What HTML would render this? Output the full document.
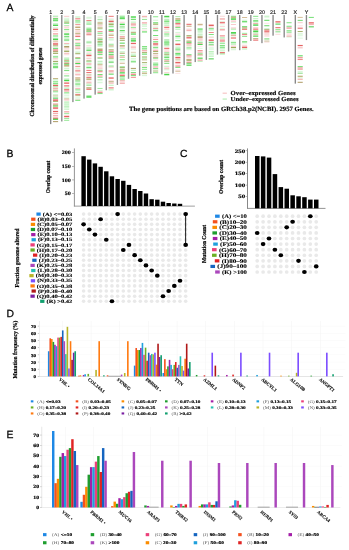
<!DOCTYPE html>
<html><head><meta charset="utf-8"><style>
html,body{margin:0;padding:0;background:#fff;overflow:hidden}
svg{display:block;will-change:transform} text{text-rendering:geometricPrecision}
</style></head><body>
<svg width="349" height="550" viewBox="0 0 349 550">
<rect width="349" height="550" fill="#fff"/>
<text x="6.60" y="10.70" font-family='"Liberation Sans", sans-serif' font-size="10.4" font-weight="normal" text-anchor="start" fill="#000"  stroke="#000" stroke-width="0.25" >A</text>
<text x="50.65" y="13.80" font-family='"Liberation Sans", sans-serif' font-size="5.3" font-weight="normal" text-anchor="middle" fill="#222"  stroke="#222" stroke-width="0.15" >1</text>
<rect x="50.00" y="15.0" width="1.35" height="109.12" fill="#888"/>
<rect x="53.00" y="15.80" width="5.1" height="0.7" fill="#6fd66f" fill-opacity="0.85"/>
<rect x="53.00" y="17.42" width="5.1" height="0.9" fill="#fadcdc" fill-opacity="0.85"/>
<rect x="53.00" y="18.26" width="5.1" height="1.2" fill="#2ecc2e" fill-opacity="0.85"/>
<rect x="53.00" y="19.76" width="5.1" height="1.5" fill="#5ad85a" fill-opacity="0.85"/>
<rect x="53.00" y="23.66" width="5.1" height="0.7" fill="#5ad85a" fill-opacity="0.85"/>
<rect x="53.00" y="24.76" width="5.1" height="1.2" fill="#2ecc2e" fill-opacity="0.85"/>
<rect x="53.00" y="27.16" width="5.1" height="1.2" fill="#d4f6d4" fill-opacity="0.85"/>
<rect x="53.00" y="28.76" width="5.1" height="1.2" fill="#e04848" fill-opacity="0.85"/>
<rect x="53.00" y="30.68" width="5.1" height="1.0" fill="#f7cccc" fill-opacity="0.85"/>
<rect x="53.00" y="33.48" width="5.1" height="0.9" fill="#e86060" fill-opacity="0.85"/>
<rect x="53.00" y="35.22" width="5.1" height="1.5" fill="#8ae48a" fill-opacity="0.85"/>
<rect x="53.00" y="37.32" width="5.1" height="1.0" fill="#d4f6d4" fill-opacity="0.85"/>
<rect x="53.00" y="38.52" width="5.1" height="1.5" fill="#2ecc2e" fill-opacity="0.85"/>
<rect x="53.00" y="40.62" width="5.1" height="1.0" fill="#c8a878" fill-opacity="0.85"/>
<rect x="53.00" y="42.22" width="5.1" height="0.7" fill="#f7cccc" fill-opacity="0.85"/>
<rect x="53.00" y="43.24" width="5.1" height="1.5" fill="#e04848" fill-opacity="0.85"/>
<rect x="53.00" y="45.34" width="5.1" height="1.0" fill="#8c9a40" fill-opacity="0.85"/>
<rect x="53.00" y="47.74" width="5.1" height="1.2" fill="#5ad85a" fill-opacity="0.85"/>
<rect x="53.00" y="49.26" width="5.1" height="1.5" fill="#ea7a7a" fill-opacity="0.85"/>
<rect x="53.00" y="50.96" width="5.1" height="0.9" fill="#a08848" fill-opacity="0.85"/>
<rect x="53.00" y="52.66" width="5.1" height="1.2" fill="#8c9a40" fill-opacity="0.85"/>
<rect x="53.00" y="55.86" width="5.1" height="0.9" fill="#6fd66f" fill-opacity="0.85"/>
<rect x="53.00" y="57.20" width="5.1" height="0.7" fill="#8ae48a" fill-opacity="0.85"/>
<rect x="53.00" y="58.42" width="5.1" height="0.9" fill="#f2a8a8" fill-opacity="0.85"/>
<rect x="53.00" y="60.82" width="5.1" height="1.2" fill="#98a050" fill-opacity="0.85"/>
<rect x="53.00" y="62.82" width="5.1" height="1.0" fill="#6fd66f" fill-opacity="0.85"/>
<rect x="53.00" y="63.82" width="5.1" height="0.7" fill="#5ad85a" fill-opacity="0.85"/>
<rect x="53.00" y="65.72" width="5.1" height="1.2" fill="#5ad85a" fill-opacity="0.85"/>
<rect x="53.00" y="67.04" width="5.1" height="1.2" fill="#5ad85a" fill-opacity="0.85"/>
<rect x="53.00" y="78.14" width="5.1" height="1.0" fill="#b0a060" fill-opacity="0.85"/>
<rect x="53.00" y="79.44" width="5.1" height="1.0" fill="#b8f0b8" fill-opacity="0.85"/>
<rect x="53.00" y="81.04" width="5.1" height="1.5" fill="#8ae48a" fill-opacity="0.85"/>
<rect x="53.00" y="83.34" width="5.1" height="0.9" fill="#2ecc2e" fill-opacity="0.85"/>
<rect x="53.00" y="84.84" width="5.1" height="1.2" fill="#e04848" fill-opacity="0.85"/>
<rect x="53.00" y="86.34" width="5.1" height="0.9" fill="#8ae48a" fill-opacity="0.85"/>
<rect x="53.00" y="87.64" width="5.1" height="1.5" fill="#f2a8a8" fill-opacity="0.85"/>
<rect x="53.00" y="89.74" width="5.1" height="0.9" fill="#b89a60" fill-opacity="0.85"/>
<rect x="53.00" y="91.04" width="5.1" height="0.7" fill="#6fd66f" fill-opacity="0.85"/>
<rect x="53.00" y="92.06" width="5.1" height="1.0" fill="#d4f6d4" fill-opacity="0.85"/>
<rect x="53.00" y="94.26" width="5.1" height="0.9" fill="#b8f0b8" fill-opacity="0.85"/>
<rect x="53.00" y="95.56" width="5.1" height="0.7" fill="#b0a060" fill-opacity="0.85"/>
<rect x="53.00" y="96.86" width="5.1" height="0.7" fill="#6fd66f" fill-opacity="0.85"/>
<rect x="53.00" y="97.96" width="5.1" height="1.0" fill="#6fd66f" fill-opacity="0.85"/>
<rect x="53.00" y="99.36" width="5.1" height="1.5" fill="#e04848" fill-opacity="0.85"/>
<rect x="53.00" y="100.96" width="5.1" height="0.9" fill="#98a050" fill-opacity="0.85"/>
<rect x="53.00" y="103.66" width="5.1" height="0.7" fill="#e04848" fill-opacity="0.85"/>
<rect x="53.00" y="104.66" width="5.1" height="0.9" fill="#8c9a40" fill-opacity="0.85"/>
<rect x="53.00" y="105.50" width="5.1" height="1.2" fill="#5ad85a" fill-opacity="0.85"/>
<rect x="53.00" y="107.30" width="5.1" height="1.5" fill="#e04848" fill-opacity="0.85"/>
<rect x="53.00" y="109.60" width="5.1" height="1.0" fill="#fadcdc" fill-opacity="0.85"/>
<rect x="53.00" y="111.00" width="5.1" height="1.0" fill="#e04848" fill-opacity="0.85"/>
<rect x="53.00" y="112.80" width="5.1" height="0.9" fill="#ea7a7a" fill-opacity="0.85"/>
<rect x="53.00" y="114.90" width="5.1" height="1.5" fill="#f2a8a8" fill-opacity="0.85"/>
<rect x="53.00" y="117.60" width="5.1" height="1.2" fill="#e04848" fill-opacity="0.85"/>
<rect x="53.00" y="118.72" width="5.1" height="1.2" fill="#2ecc2e" fill-opacity="0.85"/>
<rect x="53.00" y="121.12" width="5.1" height="1.0" fill="#a08848" fill-opacity="0.85"/>
<text x="61.77" y="13.80" font-family='"Liberation Sans", sans-serif' font-size="5.3" font-weight="normal" text-anchor="middle" fill="#222"  stroke="#222" stroke-width="0.15" >2</text>
<rect x="61.12" y="15.0" width="1.35" height="106.48" fill="#888"/>
<rect x="64.12" y="15.80" width="5.1" height="1.2" fill="#f7cccc" fill-opacity="0.85"/>
<rect x="64.12" y="17.80" width="5.1" height="1.0" fill="#d4f6d4" fill-opacity="0.85"/>
<rect x="64.12" y="19.60" width="5.1" height="0.7" fill="#8ae48a" fill-opacity="0.85"/>
<rect x="64.12" y="20.70" width="5.1" height="0.7" fill="#8ae48a" fill-opacity="0.85"/>
<rect x="64.12" y="21.72" width="5.1" height="0.9" fill="#8c9a40" fill-opacity="0.85"/>
<rect x="64.12" y="22.92" width="5.1" height="0.9" fill="#6fd66f" fill-opacity="0.85"/>
<rect x="64.12" y="25.06" width="5.1" height="0.7" fill="#8ae48a" fill-opacity="0.85"/>
<rect x="64.12" y="26.36" width="5.1" height="1.5" fill="#f7cccc" fill-opacity="0.85"/>
<rect x="64.12" y="28.06" width="5.1" height="0.7" fill="#fadcdc" fill-opacity="0.85"/>
<rect x="64.12" y="29.18" width="5.1" height="1.0" fill="#5ad85a" fill-opacity="0.85"/>
<rect x="64.12" y="31.18" width="5.1" height="1.2" fill="#fadcdc" fill-opacity="0.85"/>
<rect x="64.12" y="32.98" width="5.1" height="0.9" fill="#6fd66f" fill-opacity="0.85"/>
<rect x="64.12" y="34.18" width="5.1" height="1.0" fill="#2ecc2e" fill-opacity="0.85"/>
<rect x="64.12" y="36.28" width="5.1" height="1.0" fill="#2ecc2e" fill-opacity="0.85"/>
<rect x="64.12" y="38.68" width="5.1" height="0.9" fill="#6fd66f" fill-opacity="0.85"/>
<rect x="64.12" y="39.62" width="5.1" height="1.5" fill="#8ae48a" fill-opacity="0.85"/>
<rect x="64.12" y="42.92" width="5.1" height="1.0" fill="#f2a8a8" fill-opacity="0.85"/>
<rect x="64.12" y="44.12" width="5.1" height="1.2" fill="#d4f6d4" fill-opacity="0.85"/>
<rect x="64.12" y="46.04" width="5.1" height="1.5" fill="#a08848" fill-opacity="0.85"/>
<rect x="64.12" y="48.34" width="5.1" height="1.2" fill="#f7cccc" fill-opacity="0.85"/>
<rect x="64.12" y="50.54" width="5.1" height="1.5" fill="#98a050" fill-opacity="0.85"/>
<rect x="64.12" y="52.84" width="5.1" height="1.0" fill="#f2a8a8" fill-opacity="0.85"/>
<rect x="64.12" y="53.74" width="5.1" height="1.5" fill="#fadcdc" fill-opacity="0.85"/>
<rect x="64.12" y="57.44" width="5.1" height="0.9" fill="#b8f0b8" fill-opacity="0.85"/>
<rect x="64.12" y="58.58" width="5.1" height="1.2" fill="#8ae48a" fill-opacity="0.85"/>
<rect x="64.12" y="60.18" width="5.1" height="1.0" fill="#b89a60" fill-opacity="0.85"/>
<rect x="64.12" y="61.08" width="5.1" height="1.2" fill="#8ae48a" fill-opacity="0.85"/>
<rect x="64.12" y="62.68" width="5.1" height="1.0" fill="#e04848" fill-opacity="0.85"/>
<rect x="64.12" y="63.68" width="5.1" height="1.0" fill="#2ecc2e" fill-opacity="0.85"/>
<rect x="64.12" y="65.08" width="5.1" height="1.5" fill="#b89a60" fill-opacity="0.85"/>
<rect x="64.12" y="67.78" width="5.1" height="0.9" fill="#b8f0b8" fill-opacity="0.85"/>
<rect x="64.12" y="69.88" width="5.1" height="1.2" fill="#6fd66f" fill-opacity="0.85"/>
<rect x="64.12" y="73.08" width="5.1" height="1.2" fill="#fadcdc" fill-opacity="0.85"/>
<rect x="64.12" y="75.40" width="5.1" height="1.0" fill="#6fd66f" fill-opacity="0.85"/>
<rect x="64.12" y="78.00" width="5.1" height="1.5" fill="#d4f6d4" fill-opacity="0.85"/>
<rect x="64.12" y="79.70" width="5.1" height="1.5" fill="#2ecc2e" fill-opacity="0.85"/>
<rect x="64.12" y="82.40" width="5.1" height="1.5" fill="#e86060" fill-opacity="0.85"/>
<rect x="64.12" y="85.10" width="5.1" height="1.5" fill="#ea7a7a" fill-opacity="0.85"/>
<rect x="64.12" y="87.40" width="5.1" height="1.5" fill="#b8f0b8" fill-opacity="0.85"/>
<rect x="64.12" y="89.20" width="5.1" height="1.2" fill="#e04848" fill-opacity="0.85"/>
<rect x="64.12" y="90.52" width="5.1" height="1.2" fill="#f2a8a8" fill-opacity="0.85"/>
<rect x="64.12" y="92.12" width="5.1" height="1.5" fill="#8ae48a" fill-opacity="0.85"/>
<rect x="64.12" y="93.42" width="5.1" height="1.0" fill="#d4f6d4" fill-opacity="0.85"/>
<rect x="64.12" y="95.22" width="5.1" height="0.9" fill="#d4f6d4" fill-opacity="0.85"/>
<rect x="64.12" y="96.72" width="5.1" height="1.0" fill="#d4f6d4" fill-opacity="0.85"/>
<rect x="64.12" y="98.52" width="5.1" height="0.7" fill="#b89a60" fill-opacity="0.85"/>
<rect x="64.12" y="99.52" width="5.1" height="0.9" fill="#f2a8a8" fill-opacity="0.85"/>
<rect x="64.12" y="101.62" width="5.1" height="0.9" fill="#8ae48a" fill-opacity="0.85"/>
<rect x="64.12" y="103.32" width="5.1" height="1.5" fill="#b8f0b8" fill-opacity="0.85"/>
<rect x="64.12" y="105.62" width="5.1" height="1.0" fill="#8ae48a" fill-opacity="0.85"/>
<rect x="64.12" y="107.22" width="5.1" height="0.7" fill="#b8f0b8" fill-opacity="0.85"/>
<rect x="64.12" y="108.54" width="5.1" height="1.2" fill="#b8f0b8" fill-opacity="0.85"/>
<rect x="64.12" y="111.06" width="5.1" height="1.5" fill="#f2a8a8" fill-opacity="0.85"/>
<rect x="64.12" y="113.16" width="5.1" height="1.0" fill="#8ae48a" fill-opacity="0.85"/>
<rect x="64.12" y="115.76" width="5.1" height="1.5" fill="#e04848" fill-opacity="0.85"/>
<rect x="64.12" y="118.06" width="5.1" height="1.0" fill="#8ae48a" fill-opacity="0.85"/>
<rect x="64.12" y="119.86" width="5.1" height="1.0" fill="#8ae48a" fill-opacity="0.85"/>
<text x="72.89" y="13.80" font-family='"Liberation Sans", sans-serif' font-size="5.3" font-weight="normal" text-anchor="middle" fill="#222"  stroke="#222" stroke-width="0.15" >3</text>
<rect x="72.24" y="15.0" width="1.35" height="87.12" fill="#888"/>
<rect x="75.24" y="16.40" width="5.1" height="1.2" fill="#b8f0b8" fill-opacity="0.85"/>
<rect x="75.24" y="18.40" width="5.1" height="0.9" fill="#e04848" fill-opacity="0.85"/>
<rect x="75.24" y="20.10" width="5.1" height="1.0" fill="#8ae48a" fill-opacity="0.85"/>
<rect x="75.24" y="21.50" width="5.1" height="1.0" fill="#5ad85a" fill-opacity="0.85"/>
<rect x="75.24" y="22.80" width="5.1" height="0.9" fill="#d4f6d4" fill-opacity="0.85"/>
<rect x="75.24" y="24.14" width="5.1" height="1.0" fill="#ea7a7a" fill-opacity="0.85"/>
<rect x="75.24" y="26.54" width="5.1" height="1.5" fill="#b89a60" fill-opacity="0.85"/>
<rect x="75.24" y="29.24" width="5.1" height="0.7" fill="#b89a60" fill-opacity="0.85"/>
<rect x="75.24" y="30.34" width="5.1" height="1.0" fill="#f7cccc" fill-opacity="0.85"/>
<rect x="75.24" y="31.34" width="5.1" height="1.2" fill="#f7cccc" fill-opacity="0.85"/>
<rect x="75.24" y="32.84" width="5.1" height="1.0" fill="#b0a060" fill-opacity="0.85"/>
<rect x="75.24" y="34.64" width="5.1" height="0.7" fill="#e86060" fill-opacity="0.85"/>
<rect x="75.24" y="36.14" width="5.1" height="0.9" fill="#e04848" fill-opacity="0.85"/>
<rect x="75.24" y="39.08" width="5.1" height="0.7" fill="#2ecc2e" fill-opacity="0.85"/>
<rect x="75.24" y="40.10" width="5.1" height="1.0" fill="#f7cccc" fill-opacity="0.85"/>
<rect x="75.24" y="41.90" width="5.1" height="1.0" fill="#f7cccc" fill-opacity="0.85"/>
<rect x="75.24" y="43.30" width="5.1" height="0.7" fill="#5ad85a" fill-opacity="0.85"/>
<rect x="75.24" y="44.60" width="5.1" height="1.5" fill="#6fd66f" fill-opacity="0.85"/>
<rect x="75.24" y="46.40" width="5.1" height="0.9" fill="#f2a8a8" fill-opacity="0.85"/>
<rect x="75.24" y="47.60" width="5.1" height="1.5" fill="#f2a8a8" fill-opacity="0.85"/>
<rect x="75.24" y="49.50" width="5.1" height="0.7" fill="#d4f6d4" fill-opacity="0.85"/>
<rect x="75.24" y="51.72" width="5.1" height="0.7" fill="#8ae48a" fill-opacity="0.85"/>
<rect x="75.24" y="53.22" width="5.1" height="1.0" fill="#8c9a40" fill-opacity="0.85"/>
<rect x="75.24" y="57.22" width="5.1" height="1.0" fill="#b89a60" fill-opacity="0.85"/>
<rect x="75.24" y="58.12" width="5.1" height="1.0" fill="#6fd66f" fill-opacity="0.85"/>
<rect x="75.24" y="59.82" width="5.1" height="1.5" fill="#d4f6d4" fill-opacity="0.85"/>
<rect x="75.24" y="61.62" width="5.1" height="1.0" fill="#f2a8a8" fill-opacity="0.85"/>
<rect x="75.24" y="63.02" width="5.1" height="1.0" fill="#2ecc2e" fill-opacity="0.85"/>
<rect x="75.24" y="64.32" width="5.1" height="1.0" fill="#f7cccc" fill-opacity="0.85"/>
<rect x="75.24" y="66.12" width="5.1" height="1.0" fill="#ea7a7a" fill-opacity="0.85"/>
<rect x="75.24" y="67.92" width="5.1" height="0.7" fill="#b8f0b8" fill-opacity="0.85"/>
<rect x="75.24" y="69.42" width="5.1" height="0.7" fill="#f7cccc" fill-opacity="0.85"/>
<rect x="75.24" y="70.42" width="5.1" height="1.0" fill="#e04848" fill-opacity="0.85"/>
<rect x="75.24" y="71.92" width="5.1" height="0.7" fill="#d4f6d4" fill-opacity="0.85"/>
<rect x="75.24" y="73.82" width="5.1" height="0.7" fill="#e86060" fill-opacity="0.85"/>
<rect x="75.24" y="74.64" width="5.1" height="1.0" fill="#f7cccc" fill-opacity="0.85"/>
<rect x="75.24" y="77.24" width="5.1" height="1.5" fill="#c8a878" fill-opacity="0.85"/>
<rect x="75.24" y="79.34" width="5.1" height="1.0" fill="#8c9a40" fill-opacity="0.85"/>
<rect x="75.24" y="80.64" width="5.1" height="0.9" fill="#5ad85a" fill-opacity="0.85"/>
<rect x="75.24" y="81.84" width="5.1" height="1.0" fill="#d4f6d4" fill-opacity="0.85"/>
<rect x="75.24" y="83.54" width="5.1" height="1.0" fill="#2ecc2e" fill-opacity="0.85"/>
<rect x="75.24" y="85.34" width="5.1" height="1.2" fill="#b8f0b8" fill-opacity="0.85"/>
<rect x="75.24" y="87.84" width="5.1" height="1.0" fill="#f2a8a8" fill-opacity="0.85"/>
<rect x="75.24" y="89.44" width="5.1" height="0.9" fill="#5ad85a" fill-opacity="0.85"/>
<rect x="75.24" y="91.78" width="5.1" height="0.9" fill="#8ae48a" fill-opacity="0.85"/>
<rect x="75.24" y="93.88" width="5.1" height="1.0" fill="#e86060" fill-opacity="0.85"/>
<rect x="75.24" y="94.78" width="5.1" height="1.0" fill="#b89a60" fill-opacity="0.85"/>
<rect x="75.24" y="96.48" width="5.1" height="0.9" fill="#d4f6d4" fill-opacity="0.85"/>
<rect x="75.24" y="97.62" width="5.1" height="1.0" fill="#d4f6d4" fill-opacity="0.85"/>
<rect x="75.24" y="98.92" width="5.1" height="1.0" fill="#fadcdc" fill-opacity="0.85"/>
<rect x="75.24" y="99.82" width="5.1" height="1.0" fill="#5ad85a" fill-opacity="0.85"/>
<text x="84.01" y="13.80" font-family='"Liberation Sans", sans-serif' font-size="5.3" font-weight="normal" text-anchor="middle" fill="#222"  stroke="#222" stroke-width="0.15" >4</text>
<rect x="83.36" y="15.0" width="1.35" height="83.60" fill="#888"/>
<rect x="86.36" y="16.80" width="5.1" height="1.0" fill="#d4f6d4" fill-opacity="0.85"/>
<rect x="86.36" y="17.80" width="5.1" height="0.7" fill="#b8f0b8" fill-opacity="0.85"/>
<rect x="86.36" y="20.00" width="5.1" height="0.9" fill="#e86060" fill-opacity="0.85"/>
<rect x="86.36" y="21.50" width="5.1" height="1.0" fill="#8ae48a" fill-opacity="0.85"/>
<rect x="86.36" y="23.30" width="5.1" height="1.5" fill="#8ae48a" fill-opacity="0.85"/>
<rect x="86.36" y="27.00" width="5.1" height="1.0" fill="#d4f6d4" fill-opacity="0.85"/>
<rect x="86.36" y="28.40" width="5.1" height="1.5" fill="#5ad85a" fill-opacity="0.85"/>
<rect x="86.36" y="30.20" width="5.1" height="1.2" fill="#98a050" fill-opacity="0.85"/>
<rect x="86.36" y="31.32" width="5.1" height="0.7" fill="#5ad85a" fill-opacity="0.85"/>
<rect x="86.36" y="32.54" width="5.1" height="1.0" fill="#ea7a7a" fill-opacity="0.85"/>
<rect x="86.36" y="34.24" width="5.1" height="1.0" fill="#e86060" fill-opacity="0.85"/>
<rect x="86.36" y="40.84" width="5.1" height="1.2" fill="#b8f0b8" fill-opacity="0.85"/>
<rect x="86.36" y="42.36" width="5.1" height="0.9" fill="#6fd66f" fill-opacity="0.85"/>
<rect x="86.36" y="45.00" width="5.1" height="1.5" fill="#fadcdc" fill-opacity="0.85"/>
<rect x="86.36" y="47.30" width="5.1" height="1.5" fill="#b8f0b8" fill-opacity="0.85"/>
<rect x="86.36" y="49.60" width="5.1" height="1.2" fill="#2ecc2e" fill-opacity="0.85"/>
<rect x="86.36" y="51.60" width="5.1" height="0.9" fill="#f7cccc" fill-opacity="0.85"/>
<rect x="86.36" y="53.30" width="5.1" height="1.0" fill="#b8f0b8" fill-opacity="0.85"/>
<rect x="86.36" y="54.70" width="5.1" height="1.5" fill="#e04848" fill-opacity="0.85"/>
<rect x="86.36" y="57.70" width="5.1" height="1.5" fill="#f7cccc" fill-opacity="0.85"/>
<rect x="86.36" y="60.40" width="5.1" height="1.0" fill="#8c9a40" fill-opacity="0.85"/>
<rect x="86.36" y="61.40" width="5.1" height="0.9" fill="#8ae48a" fill-opacity="0.85"/>
<rect x="86.36" y="63.50" width="5.1" height="1.0" fill="#ea7a7a" fill-opacity="0.85"/>
<rect x="86.36" y="65.30" width="5.1" height="0.9" fill="#d4f6d4" fill-opacity="0.85"/>
<rect x="86.36" y="66.80" width="5.1" height="1.5" fill="#5ad85a" fill-opacity="0.85"/>
<rect x="86.36" y="69.90" width="5.1" height="1.0" fill="#e86060" fill-opacity="0.85"/>
<rect x="86.36" y="72.10" width="5.1" height="1.0" fill="#e04848" fill-opacity="0.85"/>
<rect x="86.36" y="74.50" width="5.1" height="0.9" fill="#b0a060" fill-opacity="0.85"/>
<rect x="86.36" y="76.80" width="5.1" height="1.0" fill="#e04848" fill-opacity="0.85"/>
<rect x="86.36" y="78.40" width="5.1" height="1.5" fill="#b0a060" fill-opacity="0.85"/>
<rect x="86.36" y="80.60" width="5.1" height="1.0" fill="#f7cccc" fill-opacity="0.85"/>
<rect x="86.36" y="82.60" width="5.1" height="0.7" fill="#e04848" fill-opacity="0.85"/>
<rect x="86.36" y="83.32" width="5.1" height="1.0" fill="#d4f6d4" fill-opacity="0.85"/>
<rect x="86.36" y="84.72" width="5.1" height="0.9" fill="#5ad85a" fill-opacity="0.85"/>
<rect x="86.36" y="87.22" width="5.1" height="1.5" fill="#b89a60" fill-opacity="0.85"/>
<rect x="86.36" y="88.92" width="5.1" height="1.0" fill="#e86060" fill-opacity="0.85"/>
<rect x="86.36" y="95.62" width="5.1" height="1.2" fill="#2ecc2e" fill-opacity="0.85"/>
<rect x="86.36" y="97.14" width="5.1" height="0.7" fill="#2ecc2e" fill-opacity="0.85"/>
<text x="95.13" y="13.80" font-family='"Liberation Sans", sans-serif' font-size="5.3" font-weight="normal" text-anchor="middle" fill="#222"  stroke="#222" stroke-width="0.15" >5</text>
<rect x="94.48" y="15.0" width="1.35" height="79.64" fill="#888"/>
<rect x="97.48" y="16.20" width="5.1" height="1.5" fill="#d4f6d4" fill-opacity="0.85"/>
<rect x="97.48" y="18.90" width="5.1" height="0.7" fill="#6fd66f" fill-opacity="0.85"/>
<rect x="97.48" y="20.70" width="5.1" height="0.7" fill="#b8f0b8" fill-opacity="0.85"/>
<rect x="97.48" y="22.20" width="5.1" height="0.9" fill="#c8a878" fill-opacity="0.85"/>
<rect x="97.48" y="23.40" width="5.1" height="1.0" fill="#98a050" fill-opacity="0.85"/>
<rect x="97.48" y="24.70" width="5.1" height="1.5" fill="#f7cccc" fill-opacity="0.85"/>
<rect x="97.48" y="26.80" width="5.1" height="0.7" fill="#b89a60" fill-opacity="0.85"/>
<rect x="97.48" y="27.80" width="5.1" height="0.9" fill="#98a050" fill-opacity="0.85"/>
<rect x="97.48" y="28.94" width="5.1" height="0.9" fill="#d4f6d4" fill-opacity="0.85"/>
<rect x="97.48" y="31.04" width="5.1" height="0.7" fill="#e86060" fill-opacity="0.85"/>
<rect x="97.48" y="32.66" width="5.1" height="1.0" fill="#5ad85a" fill-opacity="0.85"/>
<rect x="97.48" y="34.86" width="5.1" height="0.7" fill="#b89a60" fill-opacity="0.85"/>
<rect x="97.48" y="37.58" width="5.1" height="0.9" fill="#c8a878" fill-opacity="0.85"/>
<rect x="97.48" y="38.78" width="5.1" height="1.5" fill="#6fd66f" fill-opacity="0.85"/>
<rect x="97.48" y="40.88" width="5.1" height="1.5" fill="#b0a060" fill-opacity="0.85"/>
<rect x="97.48" y="42.58" width="5.1" height="0.7" fill="#2ecc2e" fill-opacity="0.85"/>
<rect x="97.48" y="43.90" width="5.1" height="0.9" fill="#6fd66f" fill-opacity="0.85"/>
<rect x="97.48" y="45.40" width="5.1" height="1.0" fill="#8ae48a" fill-opacity="0.85"/>
<rect x="97.48" y="48.50" width="5.1" height="1.5" fill="#b0a060" fill-opacity="0.85"/>
<rect x="97.48" y="50.20" width="5.1" height="1.0" fill="#e04848" fill-opacity="0.85"/>
<rect x="97.48" y="51.50" width="5.1" height="1.2" fill="#2ecc2e" fill-opacity="0.85"/>
<rect x="97.48" y="53.10" width="5.1" height="0.7" fill="#f2a8a8" fill-opacity="0.85"/>
<rect x="97.48" y="54.12" width="5.1" height="1.0" fill="#5ad85a" fill-opacity="0.85"/>
<rect x="97.48" y="56.92" width="5.1" height="0.9" fill="#c8a878" fill-opacity="0.85"/>
<rect x="97.48" y="58.22" width="5.1" height="0.7" fill="#6fd66f" fill-opacity="0.85"/>
<rect x="97.48" y="60.72" width="5.1" height="1.5" fill="#b8f0b8" fill-opacity="0.85"/>
<rect x="97.48" y="62.72" width="5.1" height="1.2" fill="#b8f0b8" fill-opacity="0.85"/>
<rect x="97.48" y="64.32" width="5.1" height="1.0" fill="#b89a60" fill-opacity="0.85"/>
<rect x="97.48" y="66.12" width="5.1" height="1.5" fill="#fadcdc" fill-opacity="0.85"/>
<rect x="97.48" y="67.62" width="5.1" height="1.5" fill="#f7cccc" fill-opacity="0.85"/>
<rect x="97.48" y="69.72" width="5.1" height="1.2" fill="#8ae48a" fill-opacity="0.85"/>
<rect x="97.48" y="70.84" width="5.1" height="0.9" fill="#e86060" fill-opacity="0.85"/>
<rect x="97.48" y="72.14" width="5.1" height="0.9" fill="#fadcdc" fill-opacity="0.85"/>
<rect x="97.48" y="74.04" width="5.1" height="1.0" fill="#5ad85a" fill-opacity="0.85"/>
<rect x="97.48" y="75.54" width="5.1" height="1.0" fill="#ea7a7a" fill-opacity="0.85"/>
<rect x="97.48" y="77.14" width="5.1" height="0.7" fill="#6fd66f" fill-opacity="0.85"/>
<rect x="97.48" y="79.04" width="5.1" height="1.5" fill="#b8f0b8" fill-opacity="0.85"/>
<rect x="97.48" y="81.74" width="5.1" height="1.5" fill="#d4f6d4" fill-opacity="0.85"/>
<rect x="97.48" y="87.94" width="5.1" height="1.0" fill="#8ae48a" fill-opacity="0.85"/>
<rect x="97.48" y="90.04" width="5.1" height="0.7" fill="#b8f0b8" fill-opacity="0.85"/>
<rect x="97.48" y="91.54" width="5.1" height="1.5" fill="#ea7a7a" fill-opacity="0.85"/>
<rect x="97.48" y="93.34" width="5.1" height="0.7" fill="#2ecc2e" fill-opacity="0.85"/>
<text x="106.25" y="13.80" font-family='"Liberation Sans", sans-serif' font-size="5.3" font-weight="normal" text-anchor="middle" fill="#222"  stroke="#222" stroke-width="0.15" >6</text>
<rect x="105.60" y="15.0" width="1.35" height="75.24" fill="#888"/>
<rect x="108.60" y="15.80" width="5.1" height="1.2" fill="#ea7a7a" fill-opacity="0.85"/>
<rect x="108.60" y="18.10" width="5.1" height="0.7" fill="#fadcdc" fill-opacity="0.85"/>
<rect x="108.60" y="19.40" width="5.1" height="0.9" fill="#b8f0b8" fill-opacity="0.85"/>
<rect x="108.60" y="20.70" width="5.1" height="1.5" fill="#e04848" fill-opacity="0.85"/>
<rect x="108.60" y="22.80" width="5.1" height="1.0" fill="#b8f0b8" fill-opacity="0.85"/>
<rect x="108.60" y="23.70" width="5.1" height="1.5" fill="#98a050" fill-opacity="0.85"/>
<rect x="108.60" y="25.80" width="5.1" height="1.5" fill="#8ae48a" fill-opacity="0.85"/>
<rect x="108.60" y="29.30" width="5.1" height="1.5" fill="#2ecc2e" fill-opacity="0.85"/>
<rect x="108.60" y="31.00" width="5.1" height="1.0" fill="#ea7a7a" fill-opacity="0.85"/>
<rect x="108.60" y="32.80" width="5.1" height="1.5" fill="#d4f6d4" fill-opacity="0.85"/>
<rect x="108.60" y="34.50" width="5.1" height="1.5" fill="#c8a878" fill-opacity="0.85"/>
<rect x="108.60" y="37.00" width="5.1" height="1.0" fill="#f2a8a8" fill-opacity="0.85"/>
<rect x="108.60" y="38.20" width="5.1" height="1.5" fill="#d4f6d4" fill-opacity="0.85"/>
<rect x="108.60" y="39.70" width="5.1" height="0.7" fill="#b8f0b8" fill-opacity="0.85"/>
<rect x="108.60" y="43.22" width="5.1" height="0.7" fill="#d4f6d4" fill-opacity="0.85"/>
<rect x="108.60" y="44.22" width="5.1" height="1.0" fill="#8ae48a" fill-opacity="0.85"/>
<rect x="108.60" y="45.52" width="5.1" height="1.0" fill="#b89a60" fill-opacity="0.85"/>
<rect x="108.60" y="46.92" width="5.1" height="0.9" fill="#d4f6d4" fill-opacity="0.85"/>
<rect x="108.60" y="49.32" width="5.1" height="1.0" fill="#98a050" fill-opacity="0.85"/>
<rect x="108.60" y="50.72" width="5.1" height="1.0" fill="#e86060" fill-opacity="0.85"/>
<rect x="108.60" y="52.02" width="5.1" height="0.9" fill="#5ad85a" fill-opacity="0.85"/>
<rect x="108.60" y="53.72" width="5.1" height="1.5" fill="#5ad85a" fill-opacity="0.85"/>
<rect x="108.60" y="55.62" width="5.1" height="0.7" fill="#e86060" fill-opacity="0.85"/>
<rect x="108.60" y="56.64" width="5.1" height="1.0" fill="#e86060" fill-opacity="0.85"/>
<rect x="108.60" y="58.24" width="5.1" height="0.7" fill="#98a050" fill-opacity="0.85"/>
<rect x="108.60" y="59.26" width="5.1" height="0.7" fill="#d4f6d4" fill-opacity="0.85"/>
<rect x="108.60" y="60.86" width="5.1" height="0.7" fill="#5ad85a" fill-opacity="0.85"/>
<rect x="108.60" y="62.08" width="5.1" height="1.0" fill="#6fd66f" fill-opacity="0.85"/>
<rect x="108.60" y="65.48" width="5.1" height="1.2" fill="#8ae48a" fill-opacity="0.85"/>
<rect x="108.60" y="66.80" width="5.1" height="1.0" fill="#f7cccc" fill-opacity="0.85"/>
<rect x="108.60" y="70.40" width="5.1" height="1.2" fill="#ea7a7a" fill-opacity="0.85"/>
<rect x="108.60" y="72.20" width="5.1" height="1.2" fill="#f7cccc" fill-opacity="0.85"/>
<rect x="108.60" y="73.70" width="5.1" height="0.9" fill="#2ecc2e" fill-opacity="0.85"/>
<rect x="108.60" y="77.30" width="5.1" height="1.5" fill="#e86060" fill-opacity="0.85"/>
<rect x="108.60" y="80.30" width="5.1" height="1.5" fill="#f7cccc" fill-opacity="0.85"/>
<rect x="108.60" y="81.50" width="5.1" height="0.7" fill="#8c9a40" fill-opacity="0.85"/>
<rect x="108.60" y="82.50" width="5.1" height="1.2" fill="#f2a8a8" fill-opacity="0.85"/>
<rect x="108.60" y="84.70" width="5.1" height="1.2" fill="#b8f0b8" fill-opacity="0.85"/>
<rect x="108.60" y="87.40" width="5.1" height="1.0" fill="#e04848" fill-opacity="0.85"/>
<rect x="108.60" y="89.20" width="5.1" height="1.2" fill="#b8f0b8" fill-opacity="0.85"/>
<text x="117.37" y="13.80" font-family='"Liberation Sans", sans-serif' font-size="5.3" font-weight="normal" text-anchor="middle" fill="#222"  stroke="#222" stroke-width="0.15" >7</text>
<rect x="116.72" y="15.0" width="1.35" height="69.96" fill="#888"/>
<rect x="119.72" y="15.80" width="5.1" height="0.7" fill="#2ecc2e" fill-opacity="0.85"/>
<rect x="119.72" y="17.30" width="5.1" height="1.0" fill="#2ecc2e" fill-opacity="0.85"/>
<rect x="119.72" y="18.20" width="5.1" height="0.9" fill="#2ecc2e" fill-opacity="0.85"/>
<rect x="119.72" y="19.14" width="5.1" height="0.9" fill="#d4f6d4" fill-opacity="0.85"/>
<rect x="119.72" y="21.74" width="5.1" height="1.0" fill="#f7cccc" fill-opacity="0.85"/>
<rect x="119.72" y="23.64" width="5.1" height="1.5" fill="#2ecc2e" fill-opacity="0.85"/>
<rect x="119.72" y="26.34" width="5.1" height="1.2" fill="#6fd66f" fill-opacity="0.85"/>
<rect x="119.72" y="27.86" width="5.1" height="1.5" fill="#d4f6d4" fill-opacity="0.85"/>
<rect x="119.72" y="30.16" width="5.1" height="1.0" fill="#2ecc2e" fill-opacity="0.85"/>
<rect x="119.72" y="31.56" width="5.1" height="1.0" fill="#b8f0b8" fill-opacity="0.85"/>
<rect x="119.72" y="33.76" width="5.1" height="1.5" fill="#d4f6d4" fill-opacity="0.85"/>
<rect x="119.72" y="36.46" width="5.1" height="0.9" fill="#e04848" fill-opacity="0.85"/>
<rect x="119.72" y="37.96" width="5.1" height="1.0" fill="#b89a60" fill-opacity="0.85"/>
<rect x="119.72" y="39.76" width="5.1" height="1.0" fill="#8c9a40" fill-opacity="0.85"/>
<rect x="119.72" y="42.56" width="5.1" height="1.2" fill="#5ad85a" fill-opacity="0.85"/>
<rect x="119.72" y="45.08" width="5.1" height="1.5" fill="#b0a060" fill-opacity="0.85"/>
<rect x="119.72" y="47.18" width="5.1" height="1.0" fill="#f7cccc" fill-opacity="0.85"/>
<rect x="119.72" y="48.18" width="5.1" height="1.0" fill="#b8f0b8" fill-opacity="0.85"/>
<rect x="119.72" y="51.58" width="5.1" height="0.7" fill="#8ae48a" fill-opacity="0.85"/>
<rect x="119.72" y="52.80" width="5.1" height="1.0" fill="#b0a060" fill-opacity="0.85"/>
<rect x="119.72" y="55.00" width="5.1" height="0.7" fill="#5ad85a" fill-opacity="0.85"/>
<rect x="119.72" y="56.02" width="5.1" height="1.2" fill="#f7cccc" fill-opacity="0.85"/>
<rect x="119.72" y="57.14" width="5.1" height="0.7" fill="#c8a878" fill-opacity="0.85"/>
<rect x="119.72" y="59.04" width="5.1" height="1.2" fill="#8ae48a" fill-opacity="0.85"/>
<rect x="119.72" y="60.54" width="5.1" height="1.0" fill="#d4f6d4" fill-opacity="0.85"/>
<rect x="119.72" y="62.74" width="5.1" height="1.0" fill="#c8a878" fill-opacity="0.85"/>
<rect x="119.72" y="66.54" width="5.1" height="0.7" fill="#2ecc2e" fill-opacity="0.85"/>
<rect x="119.72" y="67.26" width="5.1" height="1.0" fill="#8c9a40" fill-opacity="0.85"/>
<rect x="119.72" y="69.06" width="5.1" height="0.7" fill="#98a050" fill-opacity="0.85"/>
<rect x="119.72" y="70.36" width="5.1" height="1.2" fill="#e86060" fill-opacity="0.85"/>
<rect x="119.72" y="71.96" width="5.1" height="1.5" fill="#5ad85a" fill-opacity="0.85"/>
<rect x="119.72" y="73.26" width="5.1" height="0.7" fill="#8ae48a" fill-opacity="0.85"/>
<rect x="119.72" y="74.56" width="5.1" height="1.5" fill="#e86060" fill-opacity="0.85"/>
<rect x="119.72" y="76.36" width="5.1" height="0.9" fill="#2ecc2e" fill-opacity="0.85"/>
<rect x="119.72" y="77.86" width="5.1" height="0.7" fill="#6fd66f" fill-opacity="0.85"/>
<rect x="119.72" y="79.16" width="5.1" height="1.0" fill="#8ae48a" fill-opacity="0.85"/>
<rect x="119.72" y="80.56" width="5.1" height="0.7" fill="#e86060" fill-opacity="0.85"/>
<rect x="119.72" y="82.46" width="5.1" height="1.5" fill="#f2a8a8" fill-opacity="0.85"/>
<text x="128.49" y="13.80" font-family='"Liberation Sans", sans-serif' font-size="5.3" font-weight="normal" text-anchor="middle" fill="#222"  stroke="#222" stroke-width="0.15" >8</text>
<rect x="127.84" y="15.0" width="1.35" height="63.80" fill="#888"/>
<rect x="130.84" y="16.10" width="5.1" height="1.0" fill="#5ad85a" fill-opacity="0.85"/>
<rect x="130.84" y="17.30" width="5.1" height="0.9" fill="#2ecc2e" fill-opacity="0.85"/>
<rect x="130.84" y="19.00" width="5.1" height="1.0" fill="#5ad85a" fill-opacity="0.85"/>
<rect x="130.84" y="20.80" width="5.1" height="1.0" fill="#d4f6d4" fill-opacity="0.85"/>
<rect x="130.84" y="22.20" width="5.1" height="1.0" fill="#b8f0b8" fill-opacity="0.85"/>
<rect x="130.84" y="23.50" width="5.1" height="1.2" fill="#ea7a7a" fill-opacity="0.85"/>
<rect x="130.84" y="25.30" width="5.1" height="1.0" fill="#f2a8a8" fill-opacity="0.85"/>
<rect x="130.84" y="27.00" width="5.1" height="0.7" fill="#5ad85a" fill-opacity="0.85"/>
<rect x="130.84" y="28.30" width="5.1" height="1.2" fill="#f7cccc" fill-opacity="0.85"/>
<rect x="130.84" y="30.70" width="5.1" height="1.0" fill="#d4f6d4" fill-opacity="0.85"/>
<rect x="130.84" y="31.90" width="5.1" height="1.0" fill="#b89a60" fill-opacity="0.85"/>
<rect x="130.84" y="33.30" width="5.1" height="1.5" fill="#5ad85a" fill-opacity="0.85"/>
<rect x="130.84" y="36.10" width="5.1" height="1.5" fill="#fadcdc" fill-opacity="0.85"/>
<rect x="130.84" y="38.20" width="5.1" height="1.5" fill="#6fd66f" fill-opacity="0.85"/>
<rect x="130.84" y="40.10" width="5.1" height="1.5" fill="#2ecc2e" fill-opacity="0.85"/>
<rect x="130.84" y="42.80" width="5.1" height="1.2" fill="#e04848" fill-opacity="0.85"/>
<rect x="130.84" y="44.60" width="5.1" height="0.7" fill="#f7cccc" fill-opacity="0.85"/>
<rect x="130.84" y="46.62" width="5.1" height="0.9" fill="#ea7a7a" fill-opacity="0.85"/>
<rect x="130.84" y="48.12" width="5.1" height="1.2" fill="#fadcdc" fill-opacity="0.85"/>
<rect x="130.84" y="49.44" width="5.1" height="0.7" fill="#d4f6d4" fill-opacity="0.85"/>
<rect x="130.84" y="51.86" width="5.1" height="0.7" fill="#c8a878" fill-opacity="0.85"/>
<rect x="130.84" y="53.36" width="5.1" height="0.9" fill="#d4f6d4" fill-opacity="0.85"/>
<rect x="130.84" y="54.70" width="5.1" height="1.0" fill="#8ae48a" fill-opacity="0.85"/>
<rect x="130.84" y="56.00" width="5.1" height="0.9" fill="#98a050" fill-opacity="0.85"/>
<rect x="130.84" y="58.40" width="5.1" height="0.7" fill="#b8f0b8" fill-opacity="0.85"/>
<rect x="130.84" y="59.70" width="5.1" height="1.2" fill="#d4f6d4" fill-opacity="0.85"/>
<rect x="130.84" y="61.20" width="5.1" height="1.2" fill="#5ad85a" fill-opacity="0.85"/>
<rect x="130.84" y="67.90" width="5.1" height="1.0" fill="#a08848" fill-opacity="0.85"/>
<rect x="130.84" y="69.70" width="5.1" height="1.2" fill="#b8f0b8" fill-opacity="0.85"/>
<rect x="130.84" y="72.00" width="5.1" height="1.0" fill="#6fd66f" fill-opacity="0.85"/>
<rect x="130.84" y="73.70" width="5.1" height="1.0" fill="#e04848" fill-opacity="0.85"/>
<rect x="130.84" y="75.10" width="5.1" height="1.0" fill="#5ad85a" fill-opacity="0.85"/>
<rect x="130.84" y="76.90" width="5.1" height="0.7" fill="#e04848" fill-opacity="0.85"/>
<text x="139.61" y="13.80" font-family='"Liberation Sans", sans-serif' font-size="5.3" font-weight="normal" text-anchor="middle" fill="#222"  stroke="#222" stroke-width="0.15" >9</text>
<rect x="138.96" y="15.0" width="1.35" height="60.72" fill="#888"/>
<rect x="141.96" y="15.80" width="5.1" height="1.5" fill="#f2a8a8" fill-opacity="0.85"/>
<rect x="141.96" y="17.60" width="5.1" height="0.7" fill="#d4f6d4" fill-opacity="0.85"/>
<rect x="141.96" y="19.30" width="5.1" height="0.7" fill="#5ad85a" fill-opacity="0.85"/>
<rect x="141.96" y="22.42" width="5.1" height="1.0" fill="#ea7a7a" fill-opacity="0.85"/>
<rect x="141.96" y="24.22" width="5.1" height="1.2" fill="#b8f0b8" fill-opacity="0.85"/>
<rect x="141.96" y="26.02" width="5.1" height="1.0" fill="#d4f6d4" fill-opacity="0.85"/>
<rect x="141.96" y="28.22" width="5.1" height="0.9" fill="#b8f0b8" fill-opacity="0.85"/>
<rect x="141.96" y="29.72" width="5.1" height="1.0" fill="#fadcdc" fill-opacity="0.85"/>
<rect x="141.96" y="31.32" width="5.1" height="1.2" fill="#5ad85a" fill-opacity="0.85"/>
<rect x="141.96" y="46.12" width="5.1" height="1.0" fill="#5ad85a" fill-opacity="0.85"/>
<rect x="141.96" y="47.72" width="5.1" height="1.0" fill="#5ad85a" fill-opacity="0.85"/>
<rect x="141.96" y="48.62" width="5.1" height="1.0" fill="#8ae48a" fill-opacity="0.85"/>
<rect x="141.96" y="49.92" width="5.1" height="1.5" fill="#f2a8a8" fill-opacity="0.85"/>
<rect x="141.96" y="52.02" width="5.1" height="0.9" fill="#98a050" fill-opacity="0.85"/>
<rect x="141.96" y="53.52" width="5.1" height="1.2" fill="#5ad85a" fill-opacity="0.85"/>
<rect x="141.96" y="56.52" width="5.1" height="1.0" fill="#8c9a40" fill-opacity="0.85"/>
<rect x="141.96" y="57.92" width="5.1" height="1.2" fill="#b8f0b8" fill-opacity="0.85"/>
<rect x="141.96" y="59.42" width="5.1" height="0.9" fill="#b0a060" fill-opacity="0.85"/>
<rect x="141.96" y="62.12" width="5.1" height="1.0" fill="#98a050" fill-opacity="0.85"/>
<rect x="141.96" y="63.72" width="5.1" height="1.2" fill="#d4f6d4" fill-opacity="0.85"/>
<rect x="141.96" y="65.52" width="5.1" height="1.0" fill="#f7cccc" fill-opacity="0.85"/>
<rect x="141.96" y="67.12" width="5.1" height="1.0" fill="#5ad85a" fill-opacity="0.85"/>
<rect x="141.96" y="68.92" width="5.1" height="1.0" fill="#8ae48a" fill-opacity="0.85"/>
<rect x="141.96" y="71.02" width="5.1" height="1.0" fill="#b8f0b8" fill-opacity="0.85"/>
<rect x="141.96" y="72.62" width="5.1" height="1.2" fill="#b0a060" fill-opacity="0.85"/>
<rect x="141.96" y="74.62" width="5.1" height="1.5" fill="#d4f6d4" fill-opacity="0.85"/>
<text x="150.73" y="13.80" font-family='"Liberation Sans", sans-serif' font-size="5.3" font-weight="normal" text-anchor="middle" fill="#222"  stroke="#222" stroke-width="0.15" >10</text>
<rect x="150.08" y="15.0" width="1.35" height="58.96" fill="#888"/>
<rect x="153.08" y="16.10" width="5.1" height="1.2" fill="#8ae48a" fill-opacity="0.85"/>
<rect x="153.08" y="19.70" width="5.1" height="1.2" fill="#d4f6d4" fill-opacity="0.85"/>
<rect x="153.08" y="22.40" width="5.1" height="1.0" fill="#2ecc2e" fill-opacity="0.85"/>
<rect x="153.08" y="23.80" width="5.1" height="1.0" fill="#98a050" fill-opacity="0.85"/>
<rect x="153.08" y="25.60" width="5.1" height="0.9" fill="#fadcdc" fill-opacity="0.85"/>
<rect x="153.08" y="26.90" width="5.1" height="1.2" fill="#d4f6d4" fill-opacity="0.85"/>
<rect x="153.08" y="28.22" width="5.1" height="0.7" fill="#e86060" fill-opacity="0.85"/>
<rect x="153.08" y="29.72" width="5.1" height="1.5" fill="#6fd66f" fill-opacity="0.85"/>
<rect x="153.08" y="35.02" width="5.1" height="1.0" fill="#5ad85a" fill-opacity="0.85"/>
<rect x="153.08" y="37.22" width="5.1" height="1.2" fill="#fadcdc" fill-opacity="0.85"/>
<rect x="153.08" y="39.14" width="5.1" height="0.9" fill="#ea7a7a" fill-opacity="0.85"/>
<rect x="153.08" y="41.24" width="5.1" height="1.2" fill="#5ad85a" fill-opacity="0.85"/>
<rect x="153.08" y="43.24" width="5.1" height="1.5" fill="#e04848" fill-opacity="0.85"/>
<rect x="153.08" y="45.34" width="5.1" height="1.0" fill="#f2a8a8" fill-opacity="0.85"/>
<rect x="153.08" y="46.24" width="5.1" height="0.7" fill="#d4f6d4" fill-opacity="0.85"/>
<rect x="153.08" y="47.34" width="5.1" height="0.9" fill="#2ecc2e" fill-opacity="0.85"/>
<rect x="153.08" y="49.74" width="5.1" height="0.9" fill="#ea7a7a" fill-opacity="0.85"/>
<rect x="153.08" y="51.08" width="5.1" height="1.0" fill="#8c9a40" fill-opacity="0.85"/>
<rect x="153.08" y="53.28" width="5.1" height="0.9" fill="#a08848" fill-opacity="0.85"/>
<rect x="153.08" y="54.98" width="5.1" height="1.0" fill="#f7cccc" fill-opacity="0.85"/>
<rect x="153.08" y="56.78" width="5.1" height="0.9" fill="#a08848" fill-opacity="0.85"/>
<rect x="153.08" y="57.92" width="5.1" height="1.0" fill="#8ae48a" fill-opacity="0.85"/>
<rect x="153.08" y="59.52" width="5.1" height="1.0" fill="#f7cccc" fill-opacity="0.85"/>
<rect x="153.08" y="62.22" width="5.1" height="1.0" fill="#b8f0b8" fill-opacity="0.85"/>
<rect x="153.08" y="63.62" width="5.1" height="1.0" fill="#2ecc2e" fill-opacity="0.85"/>
<rect x="153.08" y="64.62" width="5.1" height="1.2" fill="#8ae48a" fill-opacity="0.85"/>
<rect x="153.08" y="66.54" width="5.1" height="0.9" fill="#ea7a7a" fill-opacity="0.85"/>
<rect x="153.08" y="68.04" width="5.1" height="1.2" fill="#6fd66f" fill-opacity="0.85"/>
<rect x="153.08" y="70.56" width="5.1" height="0.9" fill="#98a050" fill-opacity="0.85"/>
<rect x="153.08" y="72.06" width="5.1" height="1.2" fill="#8ae48a" fill-opacity="0.85"/>
<text x="161.85" y="13.80" font-family='"Liberation Sans", sans-serif' font-size="5.3" font-weight="normal" text-anchor="middle" fill="#222"  stroke="#222" stroke-width="0.15" >11</text>
<rect x="161.20" y="15.0" width="1.35" height="59.40" fill="#888"/>
<rect x="164.20" y="15.80" width="5.1" height="1.5" fill="#2ecc2e" fill-opacity="0.85"/>
<rect x="164.20" y="17.60" width="5.1" height="0.7" fill="#b8f0b8" fill-opacity="0.85"/>
<rect x="164.20" y="19.50" width="5.1" height="0.7" fill="#6fd66f" fill-opacity="0.85"/>
<rect x="164.20" y="20.60" width="5.1" height="1.5" fill="#5ad85a" fill-opacity="0.85"/>
<rect x="164.20" y="21.80" width="5.1" height="1.0" fill="#d4f6d4" fill-opacity="0.85"/>
<rect x="164.20" y="22.70" width="5.1" height="0.9" fill="#8ae48a" fill-opacity="0.85"/>
<rect x="164.20" y="24.40" width="5.1" height="1.5" fill="#b8f0b8" fill-opacity="0.85"/>
<rect x="164.20" y="26.70" width="5.1" height="1.5" fill="#e86060" fill-opacity="0.85"/>
<rect x="164.20" y="29.00" width="5.1" height="0.9" fill="#f7cccc" fill-opacity="0.85"/>
<rect x="164.20" y="30.80" width="5.1" height="1.5" fill="#d4f6d4" fill-opacity="0.85"/>
<rect x="164.20" y="32.00" width="5.1" height="0.9" fill="#f7cccc" fill-opacity="0.85"/>
<rect x="164.20" y="33.30" width="5.1" height="1.5" fill="#8ae48a" fill-opacity="0.85"/>
<rect x="164.20" y="35.20" width="5.1" height="1.5" fill="#b8f0b8" fill-opacity="0.85"/>
<rect x="164.20" y="39.50" width="5.1" height="1.0" fill="#6fd66f" fill-opacity="0.85"/>
<rect x="164.20" y="41.30" width="5.1" height="1.5" fill="#5ad85a" fill-opacity="0.85"/>
<rect x="164.20" y="42.50" width="5.1" height="1.5" fill="#8ae48a" fill-opacity="0.85"/>
<rect x="164.20" y="44.20" width="5.1" height="1.2" fill="#6fd66f" fill-opacity="0.85"/>
<rect x="164.20" y="45.52" width="5.1" height="1.0" fill="#b8f0b8" fill-opacity="0.85"/>
<rect x="164.20" y="47.72" width="5.1" height="1.5" fill="#e86060" fill-opacity="0.85"/>
<rect x="164.20" y="50.42" width="5.1" height="1.5" fill="#f7cccc" fill-opacity="0.85"/>
<rect x="164.20" y="52.32" width="5.1" height="1.2" fill="#6fd66f" fill-opacity="0.85"/>
<rect x="164.20" y="53.92" width="5.1" height="0.9" fill="#98a050" fill-opacity="0.85"/>
<rect x="164.20" y="55.42" width="5.1" height="1.0" fill="#8ae48a" fill-opacity="0.85"/>
<rect x="164.20" y="56.72" width="5.1" height="1.5" fill="#5ad85a" fill-opacity="0.85"/>
<rect x="164.20" y="59.02" width="5.1" height="0.7" fill="#5ad85a" fill-opacity="0.85"/>
<rect x="164.20" y="60.52" width="5.1" height="1.0" fill="#e86060" fill-opacity="0.85"/>
<rect x="164.20" y="61.52" width="5.1" height="0.7" fill="#6fd66f" fill-opacity="0.85"/>
<rect x="164.20" y="63.02" width="5.1" height="0.9" fill="#6fd66f" fill-opacity="0.85"/>
<rect x="164.20" y="65.82" width="5.1" height="0.9" fill="#b8f0b8" fill-opacity="0.85"/>
<rect x="164.20" y="67.26" width="5.1" height="0.7" fill="#f7cccc" fill-opacity="0.85"/>
<rect x="164.20" y="68.28" width="5.1" height="0.9" fill="#f2a8a8" fill-opacity="0.85"/>
<rect x="164.20" y="69.48" width="5.1" height="0.7" fill="#b8f0b8" fill-opacity="0.85"/>
<rect x="164.20" y="71.98" width="5.1" height="1.0" fill="#f7cccc" fill-opacity="0.85"/>
<rect x="164.20" y="73.78" width="5.1" height="1.5" fill="#2ecc2e" fill-opacity="0.85"/>
<text x="172.97" y="13.80" font-family='"Liberation Sans", sans-serif' font-size="5.3" font-weight="normal" text-anchor="middle" fill="#222"  stroke="#222" stroke-width="0.15" >12</text>
<rect x="172.32" y="15.0" width="1.35" height="58.52" fill="#888"/>
<rect x="175.32" y="16.40" width="5.1" height="0.7" fill="#6fd66f" fill-opacity="0.85"/>
<rect x="175.32" y="18.22" width="5.1" height="1.5" fill="#b0a060" fill-opacity="0.85"/>
<rect x="175.32" y="20.02" width="5.1" height="1.5" fill="#5ad85a" fill-opacity="0.85"/>
<rect x="175.32" y="22.12" width="5.1" height="1.0" fill="#8ae48a" fill-opacity="0.85"/>
<rect x="175.32" y="23.02" width="5.1" height="1.5" fill="#e86060" fill-opacity="0.85"/>
<rect x="175.32" y="25.62" width="5.1" height="1.2" fill="#f2a8a8" fill-opacity="0.85"/>
<rect x="175.32" y="27.12" width="5.1" height="1.0" fill="#5ad85a" fill-opacity="0.85"/>
<rect x="175.32" y="28.92" width="5.1" height="1.0" fill="#b8f0b8" fill-opacity="0.85"/>
<rect x="175.32" y="31.92" width="5.1" height="1.2" fill="#d4f6d4" fill-opacity="0.85"/>
<rect x="175.32" y="33.52" width="5.1" height="1.5" fill="#fadcdc" fill-opacity="0.85"/>
<rect x="175.32" y="35.62" width="5.1" height="1.5" fill="#5ad85a" fill-opacity="0.85"/>
<rect x="175.32" y="37.32" width="5.1" height="1.5" fill="#d4f6d4" fill-opacity="0.85"/>
<rect x="175.32" y="40.02" width="5.1" height="1.2" fill="#8ae48a" fill-opacity="0.85"/>
<rect x="175.32" y="43.62" width="5.1" height="1.5" fill="#e04848" fill-opacity="0.85"/>
<rect x="175.32" y="45.72" width="5.1" height="1.0" fill="#d4f6d4" fill-opacity="0.85"/>
<rect x="175.32" y="47.52" width="5.1" height="1.2" fill="#8ae48a" fill-opacity="0.85"/>
<rect x="175.32" y="49.42" width="5.1" height="0.9" fill="#2ecc2e" fill-opacity="0.85"/>
<rect x="175.32" y="51.52" width="5.1" height="1.0" fill="#f7cccc" fill-opacity="0.85"/>
<rect x="175.32" y="52.92" width="5.1" height="0.9" fill="#2ecc2e" fill-opacity="0.85"/>
<rect x="175.32" y="53.86" width="5.1" height="1.5" fill="#8ae48a" fill-opacity="0.85"/>
<rect x="175.32" y="55.16" width="5.1" height="0.9" fill="#b8f0b8" fill-opacity="0.85"/>
<rect x="175.32" y="56.86" width="5.1" height="1.5" fill="#e04848" fill-opacity="0.85"/>
<rect x="175.32" y="59.56" width="5.1" height="0.7" fill="#98a050" fill-opacity="0.85"/>
<rect x="175.32" y="61.86" width="5.1" height="1.5" fill="#e04848" fill-opacity="0.85"/>
<rect x="175.32" y="64.56" width="5.1" height="1.2" fill="#f7cccc" fill-opacity="0.85"/>
<rect x="175.32" y="65.68" width="5.1" height="1.0" fill="#ea7a7a" fill-opacity="0.85"/>
<rect x="175.32" y="66.98" width="5.1" height="0.7" fill="#2ecc2e" fill-opacity="0.85"/>
<rect x="175.32" y="69.68" width="5.1" height="0.7" fill="#f7cccc" fill-opacity="0.85"/>
<rect x="175.32" y="70.78" width="5.1" height="0.9" fill="#c8a878" fill-opacity="0.85"/>
<rect x="175.32" y="72.88" width="5.1" height="1.0" fill="#fadcdc" fill-opacity="0.85"/>
<text x="184.09" y="13.80" font-family='"Liberation Sans", sans-serif' font-size="5.3" font-weight="normal" text-anchor="middle" fill="#222"  stroke="#222" stroke-width="0.15" >13</text>
<rect x="183.44" y="15.0" width="1.35" height="50.16" fill="#888"/>
<rect x="186.44" y="23.80" width="5.1" height="1.0" fill="#e04848" fill-opacity="0.85"/>
<rect x="186.44" y="25.70" width="5.1" height="1.0" fill="#b89a60" fill-opacity="0.85"/>
<rect x="186.44" y="28.60" width="5.1" height="0.7" fill="#f7cccc" fill-opacity="0.85"/>
<rect x="186.44" y="29.62" width="5.1" height="1.5" fill="#f2a8a8" fill-opacity="0.85"/>
<rect x="186.44" y="35.22" width="5.1" height="1.2" fill="#8c9a40" fill-opacity="0.85"/>
<rect x="186.44" y="37.02" width="5.1" height="1.5" fill="#e86060" fill-opacity="0.85"/>
<rect x="186.44" y="40.52" width="5.1" height="1.2" fill="#b0a060" fill-opacity="0.85"/>
<rect x="186.44" y="41.84" width="5.1" height="1.2" fill="#5ad85a" fill-opacity="0.85"/>
<rect x="186.44" y="43.34" width="5.1" height="1.0" fill="#e86060" fill-opacity="0.85"/>
<rect x="186.44" y="45.54" width="5.1" height="0.7" fill="#c8a878" fill-opacity="0.85"/>
<rect x="186.44" y="47.44" width="5.1" height="1.0" fill="#5ad85a" fill-opacity="0.85"/>
<rect x="186.44" y="49.14" width="5.1" height="1.0" fill="#d4f6d4" fill-opacity="0.85"/>
<rect x="186.44" y="54.24" width="5.1" height="0.9" fill="#5ad85a" fill-opacity="0.85"/>
<rect x="186.44" y="55.44" width="5.1" height="1.0" fill="#e86060" fill-opacity="0.85"/>
<rect x="186.44" y="56.84" width="5.1" height="1.0" fill="#f7cccc" fill-opacity="0.85"/>
<rect x="186.44" y="58.84" width="5.1" height="1.0" fill="#b89a60" fill-opacity="0.85"/>
<rect x="186.44" y="59.84" width="5.1" height="1.0" fill="#98a050" fill-opacity="0.85"/>
<rect x="186.44" y="61.64" width="5.1" height="1.2" fill="#ea7a7a" fill-opacity="0.85"/>
<rect x="186.44" y="62.76" width="5.1" height="1.2" fill="#6fd66f" fill-opacity="0.85"/>
<rect x="186.44" y="64.56" width="5.1" height="1.2" fill="#2ecc2e" fill-opacity="0.85"/>
<text x="195.21" y="13.80" font-family='"Liberation Sans", sans-serif' font-size="5.3" font-weight="normal" text-anchor="middle" fill="#222"  stroke="#222" stroke-width="0.15" >14</text>
<rect x="194.56" y="15.0" width="1.35" height="47.08" fill="#888"/>
<rect x="197.56" y="23.80" width="5.1" height="1.5" fill="#c8a878" fill-opacity="0.85"/>
<rect x="197.56" y="28.00" width="5.1" height="0.9" fill="#8ae48a" fill-opacity="0.85"/>
<rect x="197.56" y="29.20" width="5.1" height="1.2" fill="#5ad85a" fill-opacity="0.85"/>
<rect x="197.56" y="31.60" width="5.1" height="0.7" fill="#6fd66f" fill-opacity="0.85"/>
<rect x="197.56" y="33.22" width="5.1" height="1.0" fill="#d4f6d4" fill-opacity="0.85"/>
<rect x="197.56" y="34.62" width="5.1" height="0.7" fill="#6fd66f" fill-opacity="0.85"/>
<rect x="197.56" y="36.32" width="5.1" height="1.5" fill="#a08848" fill-opacity="0.85"/>
<rect x="197.56" y="38.62" width="5.1" height="0.7" fill="#ea7a7a" fill-opacity="0.85"/>
<rect x="197.56" y="39.62" width="5.1" height="1.2" fill="#f7cccc" fill-opacity="0.85"/>
<rect x="197.56" y="41.72" width="5.1" height="1.0" fill="#6fd66f" fill-opacity="0.85"/>
<rect x="197.56" y="43.12" width="5.1" height="0.9" fill="#f2a8a8" fill-opacity="0.85"/>
<rect x="197.56" y="43.96" width="5.1" height="1.0" fill="#2ecc2e" fill-opacity="0.85"/>
<rect x="197.56" y="45.76" width="5.1" height="0.9" fill="#fadcdc" fill-opacity="0.85"/>
<rect x="197.56" y="47.86" width="5.1" height="1.0" fill="#d4f6d4" fill-opacity="0.85"/>
<rect x="197.56" y="50.26" width="5.1" height="1.0" fill="#e86060" fill-opacity="0.85"/>
<rect x="197.56" y="51.86" width="5.1" height="0.9" fill="#f2a8a8" fill-opacity="0.85"/>
<rect x="197.56" y="53.06" width="5.1" height="0.9" fill="#8ae48a" fill-opacity="0.85"/>
<rect x="197.56" y="54.36" width="5.1" height="1.2" fill="#a08848" fill-opacity="0.85"/>
<rect x="197.56" y="55.38" width="5.1" height="0.9" fill="#fadcdc" fill-opacity="0.85"/>
<rect x="197.56" y="57.48" width="5.1" height="1.5" fill="#5ad85a" fill-opacity="0.85"/>
<rect x="197.56" y="59.58" width="5.1" height="1.0" fill="#ea7a7a" fill-opacity="0.85"/>
<rect x="197.56" y="60.98" width="5.1" height="1.0" fill="#b8f0b8" fill-opacity="0.85"/>
<text x="206.33" y="13.80" font-family='"Liberation Sans", sans-serif' font-size="5.3" font-weight="normal" text-anchor="middle" fill="#222"  stroke="#222" stroke-width="0.15" >15</text>
<rect x="205.68" y="15.0" width="1.35" height="44.88" fill="#888"/>
<rect x="208.68" y="24.60" width="5.1" height="1.5" fill="#e04848" fill-opacity="0.85"/>
<rect x="208.68" y="26.70" width="5.1" height="1.0" fill="#f7cccc" fill-opacity="0.85"/>
<rect x="208.68" y="28.10" width="5.1" height="1.0" fill="#6fd66f" fill-opacity="0.85"/>
<rect x="208.68" y="29.10" width="5.1" height="1.5" fill="#b8f0b8" fill-opacity="0.85"/>
<rect x="208.68" y="32.00" width="5.1" height="1.0" fill="#ea7a7a" fill-opacity="0.85"/>
<rect x="208.68" y="34.00" width="5.1" height="0.9" fill="#5ad85a" fill-opacity="0.85"/>
<rect x="208.68" y="36.10" width="5.1" height="0.7" fill="#d4f6d4" fill-opacity="0.85"/>
<rect x="208.68" y="37.12" width="5.1" height="0.9" fill="#f7cccc" fill-opacity="0.85"/>
<rect x="208.68" y="39.02" width="5.1" height="0.7" fill="#ea7a7a" fill-opacity="0.85"/>
<rect x="208.68" y="40.04" width="5.1" height="0.9" fill="#e04848" fill-opacity="0.85"/>
<rect x="208.68" y="41.74" width="5.1" height="1.5" fill="#6fd66f" fill-opacity="0.85"/>
<rect x="208.68" y="44.14" width="5.1" height="1.5" fill="#6fd66f" fill-opacity="0.85"/>
<rect x="208.68" y="45.34" width="5.1" height="1.0" fill="#fadcdc" fill-opacity="0.85"/>
<rect x="208.68" y="47.54" width="5.1" height="0.9" fill="#b8f0b8" fill-opacity="0.85"/>
<rect x="208.68" y="49.24" width="5.1" height="0.9" fill="#d4f6d4" fill-opacity="0.85"/>
<rect x="208.68" y="51.34" width="5.1" height="1.0" fill="#8ae48a" fill-opacity="0.85"/>
<rect x="208.68" y="53.54" width="5.1" height="0.7" fill="#8ae48a" fill-opacity="0.85"/>
<rect x="208.68" y="54.36" width="5.1" height="1.0" fill="#d4f6d4" fill-opacity="0.85"/>
<rect x="208.68" y="55.66" width="5.1" height="1.2" fill="#b8f0b8" fill-opacity="0.85"/>
<rect x="208.68" y="58.06" width="5.1" height="1.5" fill="#6fd66f" fill-opacity="0.85"/>
<text x="217.45" y="13.80" font-family='"Liberation Sans", sans-serif' font-size="5.3" font-weight="normal" text-anchor="middle" fill="#222"  stroke="#222" stroke-width="0.15" >16</text>
<rect x="216.80" y="15.0" width="1.35" height="39.60" fill="#888"/>
<rect x="219.80" y="15.80" width="5.1" height="0.9" fill="#f7cccc" fill-opacity="0.85"/>
<rect x="219.80" y="18.20" width="5.1" height="1.5" fill="#f2a8a8" fill-opacity="0.85"/>
<rect x="219.80" y="20.90" width="5.1" height="0.7" fill="#d4f6d4" fill-opacity="0.85"/>
<rect x="219.80" y="21.90" width="5.1" height="1.5" fill="#e86060" fill-opacity="0.85"/>
<rect x="219.80" y="24.60" width="5.1" height="0.7" fill="#d4f6d4" fill-opacity="0.85"/>
<rect x="219.80" y="26.10" width="5.1" height="0.9" fill="#f7cccc" fill-opacity="0.85"/>
<rect x="219.80" y="27.80" width="5.1" height="1.0" fill="#d4f6d4" fill-opacity="0.85"/>
<rect x="219.80" y="29.40" width="5.1" height="0.9" fill="#e86060" fill-opacity="0.85"/>
<rect x="219.80" y="35.40" width="5.1" height="1.0" fill="#e86060" fill-opacity="0.85"/>
<rect x="219.80" y="37.60" width="5.1" height="0.7" fill="#5ad85a" fill-opacity="0.85"/>
<rect x="219.80" y="38.90" width="5.1" height="0.9" fill="#f2a8a8" fill-opacity="0.85"/>
<rect x="219.80" y="40.20" width="5.1" height="1.5" fill="#ea7a7a" fill-opacity="0.85"/>
<rect x="219.80" y="42.00" width="5.1" height="0.7" fill="#b8f0b8" fill-opacity="0.85"/>
<rect x="219.80" y="43.10" width="5.1" height="1.0" fill="#8ae48a" fill-opacity="0.85"/>
<rect x="219.80" y="45.30" width="5.1" height="1.0" fill="#2ecc2e" fill-opacity="0.85"/>
<rect x="219.80" y="47.20" width="5.1" height="1.2" fill="#5ad85a" fill-opacity="0.85"/>
<rect x="219.80" y="48.22" width="5.1" height="1.5" fill="#d4f6d4" fill-opacity="0.85"/>
<rect x="219.80" y="50.32" width="5.1" height="1.0" fill="#b8f0b8" fill-opacity="0.85"/>
<rect x="219.80" y="52.12" width="5.1" height="1.2" fill="#e04848" fill-opacity="0.85"/>
<rect x="219.80" y="53.44" width="5.1" height="1.0" fill="#8ae48a" fill-opacity="0.85"/>
<text x="228.57" y="13.80" font-family='"Liberation Sans", sans-serif' font-size="5.3" font-weight="normal" text-anchor="middle" fill="#222"  stroke="#222" stroke-width="0.15" >17</text>
<rect x="227.92" y="15.0" width="1.35" height="36.52" fill="#888"/>
<rect x="230.92" y="15.80" width="5.1" height="1.0" fill="#6fd66f" fill-opacity="0.85"/>
<rect x="230.92" y="16.80" width="5.1" height="1.2" fill="#c8a878" fill-opacity="0.85"/>
<rect x="230.92" y="18.30" width="5.1" height="1.5" fill="#2ecc2e" fill-opacity="0.85"/>
<rect x="230.92" y="20.60" width="5.1" height="1.0" fill="#f2a8a8" fill-opacity="0.85"/>
<rect x="230.92" y="22.00" width="5.1" height="0.9" fill="#d4f6d4" fill-opacity="0.85"/>
<rect x="230.92" y="24.10" width="5.1" height="0.7" fill="#f2a8a8" fill-opacity="0.85"/>
<rect x="230.92" y="27.32" width="5.1" height="1.5" fill="#f7cccc" fill-opacity="0.85"/>
<rect x="230.92" y="28.52" width="5.1" height="1.5" fill="#b8f0b8" fill-opacity="0.85"/>
<rect x="230.92" y="32.02" width="5.1" height="1.5" fill="#2ecc2e" fill-opacity="0.85"/>
<rect x="230.92" y="33.32" width="5.1" height="1.0" fill="#6fd66f" fill-opacity="0.85"/>
<rect x="230.92" y="34.92" width="5.1" height="0.7" fill="#e04848" fill-opacity="0.85"/>
<rect x="230.92" y="35.64" width="5.1" height="0.7" fill="#b8f0b8" fill-opacity="0.85"/>
<rect x="230.92" y="37.26" width="5.1" height="1.5" fill="#ea7a7a" fill-opacity="0.85"/>
<rect x="230.92" y="40.76" width="5.1" height="0.9" fill="#d4f6d4" fill-opacity="0.85"/>
<rect x="230.92" y="42.36" width="5.1" height="0.9" fill="#2ecc2e" fill-opacity="0.85"/>
<rect x="230.92" y="43.86" width="5.1" height="1.0" fill="#b8f0b8" fill-opacity="0.85"/>
<rect x="230.92" y="45.46" width="5.1" height="1.5" fill="#f7cccc" fill-opacity="0.85"/>
<rect x="230.92" y="46.96" width="5.1" height="1.2" fill="#8c9a40" fill-opacity="0.85"/>
<rect x="230.92" y="48.76" width="5.1" height="1.5" fill="#d4f6d4" fill-opacity="0.85"/>
<text x="239.69" y="13.80" font-family='"Liberation Sans", sans-serif' font-size="5.3" font-weight="normal" text-anchor="middle" fill="#222"  stroke="#222" stroke-width="0.15" >18</text>
<rect x="239.04" y="15.0" width="1.35" height="35.20" fill="#888"/>
<rect x="242.04" y="17.00" width="5.1" height="0.9" fill="#c8a878" fill-opacity="0.85"/>
<rect x="242.04" y="19.70" width="5.1" height="1.0" fill="#d4f6d4" fill-opacity="0.85"/>
<rect x="242.04" y="20.90" width="5.1" height="1.5" fill="#5ad85a" fill-opacity="0.85"/>
<rect x="242.04" y="26.10" width="5.1" height="1.0" fill="#5ad85a" fill-opacity="0.85"/>
<rect x="242.04" y="27.40" width="5.1" height="1.2" fill="#a08848" fill-opacity="0.85"/>
<rect x="242.04" y="29.00" width="5.1" height="0.9" fill="#e86060" fill-opacity="0.85"/>
<rect x="242.04" y="32.90" width="5.1" height="0.7" fill="#5ad85a" fill-opacity="0.85"/>
<rect x="242.04" y="34.12" width="5.1" height="1.0" fill="#e86060" fill-opacity="0.85"/>
<rect x="242.04" y="35.92" width="5.1" height="0.9" fill="#6fd66f" fill-opacity="0.85"/>
<rect x="242.04" y="41.06" width="5.1" height="0.9" fill="#6fd66f" fill-opacity="0.85"/>
<rect x="242.04" y="42.26" width="5.1" height="0.9" fill="#8ae48a" fill-opacity="0.85"/>
<rect x="242.04" y="44.76" width="5.1" height="1.0" fill="#f7cccc" fill-opacity="0.85"/>
<rect x="242.04" y="46.56" width="5.1" height="1.5" fill="#e04848" fill-opacity="0.85"/>
<rect x="242.04" y="48.66" width="5.1" height="0.7" fill="#8ae48a" fill-opacity="0.85"/>
<text x="250.81" y="13.80" font-family='"Liberation Sans", sans-serif' font-size="5.3" font-weight="normal" text-anchor="middle" fill="#222"  stroke="#222" stroke-width="0.15" >19</text>
<rect x="250.16" y="15.0" width="1.35" height="25.96" fill="#888"/>
<rect x="253.16" y="15.80" width="5.1" height="1.2" fill="#8ae48a" fill-opacity="0.85"/>
<rect x="253.16" y="18.20" width="5.1" height="1.0" fill="#b8f0b8" fill-opacity="0.85"/>
<rect x="253.16" y="20.30" width="5.1" height="1.0" fill="#2ecc2e" fill-opacity="0.85"/>
<rect x="253.16" y="21.30" width="5.1" height="1.0" fill="#8ae48a" fill-opacity="0.85"/>
<rect x="253.16" y="23.10" width="5.1" height="0.7" fill="#ea7a7a" fill-opacity="0.85"/>
<rect x="253.16" y="24.10" width="5.1" height="1.2" fill="#6fd66f" fill-opacity="0.85"/>
<rect x="253.16" y="25.22" width="5.1" height="0.7" fill="#2ecc2e" fill-opacity="0.85"/>
<rect x="253.16" y="27.62" width="5.1" height="1.0" fill="#ea7a7a" fill-opacity="0.85"/>
<rect x="253.16" y="29.22" width="5.1" height="0.9" fill="#e86060" fill-opacity="0.85"/>
<rect x="253.16" y="30.52" width="5.1" height="1.5" fill="#2ecc2e" fill-opacity="0.85"/>
<rect x="253.16" y="32.62" width="5.1" height="0.7" fill="#5ad85a" fill-opacity="0.85"/>
<rect x="253.16" y="33.84" width="5.1" height="1.0" fill="#f2a8a8" fill-opacity="0.85"/>
<rect x="253.16" y="34.84" width="5.1" height="1.0" fill="#8ae48a" fill-opacity="0.85"/>
<rect x="253.16" y="36.04" width="5.1" height="0.9" fill="#5ad85a" fill-opacity="0.85"/>
<rect x="253.16" y="38.14" width="5.1" height="0.7" fill="#a08848" fill-opacity="0.85"/>
<rect x="253.16" y="39.36" width="5.1" height="1.5" fill="#ea7a7a" fill-opacity="0.85"/>
<text x="261.93" y="13.80" font-family='"Liberation Sans", sans-serif' font-size="5.3" font-weight="normal" text-anchor="middle" fill="#222"  stroke="#222" stroke-width="0.15" >20</text>
<rect x="261.28" y="15.0" width="1.35" height="28.16" fill="#888"/>
<rect x="264.28" y="15.80" width="5.1" height="0.7" fill="#8ae48a" fill-opacity="0.85"/>
<rect x="264.28" y="17.30" width="5.1" height="0.7" fill="#d4f6d4" fill-opacity="0.85"/>
<rect x="264.28" y="18.92" width="5.1" height="1.5" fill="#d4f6d4" fill-opacity="0.85"/>
<rect x="264.28" y="20.22" width="5.1" height="0.7" fill="#2ecc2e" fill-opacity="0.85"/>
<rect x="264.28" y="22.84" width="5.1" height="0.9" fill="#fadcdc" fill-opacity="0.85"/>
<rect x="264.28" y="25.08" width="5.1" height="1.2" fill="#6fd66f" fill-opacity="0.85"/>
<rect x="264.28" y="28.68" width="5.1" height="0.9" fill="#5ad85a" fill-opacity="0.85"/>
<rect x="264.28" y="29.62" width="5.1" height="0.7" fill="#e04848" fill-opacity="0.85"/>
<rect x="264.28" y="30.62" width="5.1" height="1.2" fill="#e04848" fill-opacity="0.85"/>
<rect x="264.28" y="32.12" width="5.1" height="1.0" fill="#f2a8a8" fill-opacity="0.85"/>
<rect x="264.28" y="33.32" width="5.1" height="1.5" fill="#f7cccc" fill-opacity="0.85"/>
<rect x="264.28" y="35.62" width="5.1" height="0.7" fill="#f2a8a8" fill-opacity="0.85"/>
<rect x="264.28" y="38.32" width="5.1" height="1.2" fill="#6fd66f" fill-opacity="0.85"/>
<rect x="264.28" y="40.72" width="5.1" height="0.7" fill="#a08848" fill-opacity="0.85"/>
<rect x="264.28" y="41.82" width="5.1" height="0.9" fill="#fadcdc" fill-opacity="0.85"/>
<text x="273.05" y="13.80" font-family='"Liberation Sans", sans-serif' font-size="5.3" font-weight="normal" text-anchor="middle" fill="#222"  stroke="#222" stroke-width="0.15" >21</text>
<rect x="272.40" y="15.0" width="1.35" height="20.68" fill="#888"/>
<rect x="275.40" y="21.10" width="5.1" height="1.5" fill="#e86060" fill-opacity="0.85"/>
<rect x="275.40" y="23.40" width="5.1" height="1.5" fill="#6fd66f" fill-opacity="0.85"/>
<rect x="275.40" y="27.20" width="5.1" height="1.0" fill="#e04848" fill-opacity="0.85"/>
<rect x="275.40" y="29.00" width="5.1" height="1.2" fill="#8ae48a" fill-opacity="0.85"/>
<rect x="275.40" y="30.02" width="5.1" height="0.7" fill="#fadcdc" fill-opacity="0.85"/>
<rect x="275.40" y="31.32" width="5.1" height="1.0" fill="#6fd66f" fill-opacity="0.85"/>
<rect x="275.40" y="33.82" width="5.1" height="0.9" fill="#f7cccc" fill-opacity="0.85"/>
<text x="284.17" y="13.80" font-family='"Liberation Sans", sans-serif' font-size="5.3" font-weight="normal" text-anchor="middle" fill="#222"  stroke="#222" stroke-width="0.15" >22</text>
<rect x="283.52" y="15.0" width="1.35" height="22.44" fill="#888"/>
<rect x="286.52" y="22.30" width="5.1" height="0.9" fill="#5ad85a" fill-opacity="0.85"/>
<rect x="286.52" y="25.20" width="5.1" height="1.2" fill="#d4f6d4" fill-opacity="0.85"/>
<rect x="286.52" y="26.32" width="5.1" height="0.7" fill="#5ad85a" fill-opacity="0.85"/>
<rect x="286.52" y="27.54" width="5.1" height="1.0" fill="#e86060" fill-opacity="0.85"/>
<rect x="286.52" y="30.04" width="5.1" height="1.5" fill="#8ae48a" fill-opacity="0.85"/>
<rect x="286.52" y="31.84" width="5.1" height="1.0" fill="#8ae48a" fill-opacity="0.85"/>
<rect x="286.52" y="33.44" width="5.1" height="1.2" fill="#f7cccc" fill-opacity="0.85"/>
<rect x="286.52" y="35.74" width="5.1" height="0.7" fill="#e04848" fill-opacity="0.85"/>
<rect x="286.52" y="36.74" width="5.1" height="0.9" fill="#d4f6d4" fill-opacity="0.85"/>
<text x="295.29" y="13.80" font-family='"Liberation Sans", sans-serif' font-size="5.3" font-weight="normal" text-anchor="middle" fill="#222"  stroke="#222" stroke-width="0.15" >X</text>
<rect x="294.64" y="15.0" width="1.35" height="68.64" fill="#888"/>
<rect x="297.64" y="16.90" width="5.1" height="0.9" fill="#c8a878" fill-opacity="0.85"/>
<rect x="297.64" y="19.84" width="5.1" height="1.2" fill="#6fd66f" fill-opacity="0.85"/>
<rect x="297.64" y="22.04" width="5.1" height="1.2" fill="#f7cccc" fill-opacity="0.85"/>
<rect x="297.64" y="25.54" width="5.1" height="0.7" fill="#f7cccc" fill-opacity="0.85"/>
<rect x="297.64" y="27.54" width="5.1" height="1.5" fill="#ea7a7a" fill-opacity="0.85"/>
<rect x="297.64" y="31.14" width="5.1" height="0.9" fill="#8c9a40" fill-opacity="0.85"/>
<rect x="297.64" y="33.44" width="5.1" height="1.0" fill="#b8f0b8" fill-opacity="0.85"/>
<rect x="297.64" y="35.24" width="5.1" height="1.0" fill="#d4f6d4" fill-opacity="0.85"/>
<rect x="297.64" y="37.64" width="5.1" height="1.0" fill="#d4f6d4" fill-opacity="0.85"/>
<rect x="297.64" y="44.94" width="5.1" height="1.2" fill="#e04848" fill-opacity="0.85"/>
<rect x="297.64" y="47.34" width="5.1" height="1.0" fill="#f2a8a8" fill-opacity="0.85"/>
<rect x="297.64" y="55.34" width="5.1" height="1.0" fill="#2ecc2e" fill-opacity="0.85"/>
<rect x="297.64" y="57.14" width="5.1" height="1.2" fill="#ea7a7a" fill-opacity="0.85"/>
<rect x="297.64" y="59.14" width="5.1" height="0.9" fill="#e86060" fill-opacity="0.85"/>
<rect x="297.64" y="66.08" width="5.1" height="1.0" fill="#5ad85a" fill-opacity="0.85"/>
<rect x="297.64" y="67.58" width="5.1" height="0.7" fill="#e04848" fill-opacity="0.85"/>
<rect x="297.64" y="68.68" width="5.1" height="1.0" fill="#ea7a7a" fill-opacity="0.85"/>
<rect x="297.64" y="70.88" width="5.1" height="1.2" fill="#d4f6d4" fill-opacity="0.85"/>
<rect x="297.64" y="72.70" width="5.1" height="1.0" fill="#6fd66f" fill-opacity="0.85"/>
<rect x="297.64" y="75.70" width="5.1" height="1.2" fill="#b0a060" fill-opacity="0.85"/>
<rect x="297.64" y="77.20" width="5.1" height="1.0" fill="#d4f6d4" fill-opacity="0.85"/>
<rect x="297.64" y="78.80" width="5.1" height="0.7" fill="#e86060" fill-opacity="0.85"/>
<rect x="297.64" y="81.80" width="5.1" height="1.0" fill="#a08848" fill-opacity="0.85"/>
<text x="306.41" y="13.80" font-family='"Liberation Sans", sans-serif' font-size="5.3" font-weight="normal" text-anchor="middle" fill="#222"  stroke="#222" stroke-width="0.15" >Y</text>
<rect x="305.76" y="15.0" width="1.35" height="25.08" fill="#888"/>
<rect x="308.76" y="16.90" width="5.1" height="1.0" fill="#5ad85a" fill-opacity="0.85"/>
<rect x="308.76" y="22.10" width="5.1" height="1.5" fill="#e86060" fill-opacity="0.85"/>
<rect x="308.76" y="23.60" width="5.1" height="1.5" fill="#f2a8a8" fill-opacity="0.85"/>
<rect x="308.76" y="26.00" width="5.1" height="1.5" fill="#6fd66f" fill-opacity="0.85"/>
<text x="0" y="0" transform="translate(32.50,66.00) rotate(-90)" font-family='"Liberation Serif", serif' font-size="6.2" font-weight="bold" text-anchor="middle" dominant-baseline="central" textLength="101" lengthAdjust="spacingAndGlyphs" fill="#000" stroke="#000" stroke-width="0.22">Chromosomal distribution of differentially</text>
<text x="0" y="0" transform="translate(40.80,66.00) rotate(-90)" font-family='"Liberation Serif", serif' font-size="6.2" font-weight="bold" text-anchor="middle" dominant-baseline="central" textLength="37" lengthAdjust="spacingAndGlyphs" fill="#000" stroke="#000" stroke-width="0.22">expressed genes</text>
<rect x="222.6" y="92.7" width="4.3" height="0.9" fill="#f4b4b4"/>
<rect x="222.6" y="98.6" width="4.3" height="0.9" fill="#a0e8a0"/>
<text x="230.60" y="95.00" font-family='"Liberation Serif", serif' font-size="6.2" font-weight="bold" text-anchor="start" fill="#000" textLength="65.00" lengthAdjust="spacingAndGlyphs" stroke="#000" stroke-width="0.15" >Over–expressed Genes</text>
<text x="230.60" y="101.40" font-family='"Liberation Serif", serif' font-size="6.2" font-weight="bold" text-anchor="start" fill="#000" textLength="68.00" lengthAdjust="spacingAndGlyphs" stroke="#000" stroke-width="0.15" >Under–expressed Genes</text>
<text x="129.00" y="110.80" font-family='"Liberation Serif", serif' font-size="6.4" font-weight="bold" text-anchor="start" fill="#000" textLength="184.70" lengthAdjust="spacingAndGlyphs" stroke="#000" stroke-width="0.15" >The gene positions are based on GRCh38.p2(NCBI). 2957 Genes.</text>
<text x="6.60" y="157.00" font-family='"Liberation Sans", sans-serif' font-size="10.4" font-weight="normal" text-anchor="start" fill="#000"  stroke="#000" stroke-width="0.25" >B</text>
<rect x="73.9" y="148.4" width="0.9" height="58" fill="#888"/>
<rect x="73.9" y="205.7" width="121.0" height="0.8" fill="#888"/>
<rect x="72.0" y="193.26" width="2.0" height="0.6" fill="#888"/>
<text x="70.90" y="195.37" font-family='"Liberation Serif", serif' font-size="5.3" font-weight="bold" text-anchor="end" fill="#000" textLength="6.06" lengthAdjust="spacingAndGlyphs" stroke="#000" stroke-width="0.16" >50</text>
<rect x="72.0" y="179.63" width="2.0" height="0.6" fill="#888"/>
<text x="70.90" y="181.73" font-family='"Liberation Serif", serif' font-size="5.3" font-weight="bold" text-anchor="end" fill="#000" textLength="9.09" lengthAdjust="spacingAndGlyphs" stroke="#000" stroke-width="0.16" >100</text>
<rect x="72.0" y="165.99" width="2.0" height="0.6" fill="#888"/>
<text x="70.90" y="168.09" font-family='"Liberation Serif", serif' font-size="5.3" font-weight="bold" text-anchor="end" fill="#000" textLength="9.09" lengthAdjust="spacingAndGlyphs" stroke="#000" stroke-width="0.16" >150</text>
<rect x="72.0" y="152.36" width="2.0" height="0.6" fill="#888"/>
<text x="70.90" y="154.46" font-family='"Liberation Serif", serif' font-size="5.3" font-weight="bold" text-anchor="end" fill="#000" textLength="9.09" lengthAdjust="spacingAndGlyphs" stroke="#000" stroke-width="0.16" >200</text>
<text x="0" y="0" transform="translate(48.60,177.00) rotate(-90)" font-family='"Liberation Serif", serif' font-size="6.0" font-weight="bold" text-anchor="middle" dominant-baseline="central" textLength="32.5" lengthAdjust="spacingAndGlyphs" fill="#000" stroke="#000" stroke-width="0.22">Overlap count</text>
<rect x="81.40" y="156.2" width="4.4" height="49.80" fill="#000"/>
<rect x="87.07" y="159.6" width="4.4" height="46.40" fill="#000"/>
<rect x="92.74" y="163.4" width="4.4" height="42.60" fill="#000"/>
<rect x="98.41" y="166.8" width="4.4" height="39.20" fill="#000"/>
<rect x="104.08" y="171.3" width="4.4" height="34.70" fill="#000"/>
<rect x="109.75" y="176.3" width="4.4" height="29.70" fill="#000"/>
<rect x="115.42" y="179" width="4.4" height="27.00" fill="#000"/>
<rect x="121.09" y="180.8" width="4.4" height="25.20" fill="#000"/>
<rect x="126.76" y="184.9" width="4.4" height="21.10" fill="#000"/>
<rect x="132.43" y="189" width="4.4" height="17.00" fill="#000"/>
<rect x="138.10" y="191" width="4.4" height="15.00" fill="#000"/>
<rect x="143.77" y="193.5" width="4.4" height="12.50" fill="#000"/>
<rect x="149.44" y="199.2" width="4.4" height="6.80" fill="#000"/>
<rect x="155.11" y="199.7" width="4.4" height="6.30" fill="#000"/>
<rect x="160.78" y="201.7" width="4.4" height="4.30" fill="#000"/>
<rect x="166.45" y="203" width="4.4" height="3.00" fill="#000"/>
<rect x="172.12" y="203.5" width="4.4" height="2.50" fill="#000"/>
<rect x="177.79" y="203.8" width="4.4" height="2.20" fill="#000"/>
<circle cx="83.60" cy="214.10" r="1.8" fill="#e9e9e9"/>
<circle cx="89.27" cy="214.10" r="1.8" fill="#e9e9e9"/>
<circle cx="94.94" cy="214.10" r="1.8" fill="#e9e9e9"/>
<circle cx="100.61" cy="214.10" r="1.8" fill="#e9e9e9"/>
<circle cx="106.28" cy="214.10" r="1.8" fill="#e9e9e9"/>
<circle cx="111.95" cy="214.10" r="1.8" fill="#e9e9e9"/>
<circle cx="117.62" cy="214.10" r="1.8" fill="#e9e9e9"/>
<circle cx="123.29" cy="214.10" r="1.8" fill="#e9e9e9"/>
<circle cx="128.96" cy="214.10" r="1.8" fill="#e9e9e9"/>
<circle cx="134.63" cy="214.10" r="1.8" fill="#e9e9e9"/>
<circle cx="140.30" cy="214.10" r="1.8" fill="#e9e9e9"/>
<circle cx="145.97" cy="214.10" r="1.8" fill="#e9e9e9"/>
<circle cx="151.64" cy="214.10" r="1.8" fill="#e9e9e9"/>
<circle cx="157.31" cy="214.10" r="1.8" fill="#e9e9e9"/>
<circle cx="162.98" cy="214.10" r="1.8" fill="#e9e9e9"/>
<circle cx="168.65" cy="214.10" r="1.8" fill="#e9e9e9"/>
<circle cx="174.32" cy="214.10" r="1.8" fill="#e9e9e9"/>
<circle cx="179.99" cy="214.10" r="1.8" fill="#e9e9e9"/>
<circle cx="185.66" cy="214.10" r="1.8" fill="#e9e9e9"/>
<circle cx="83.60" cy="219.23" r="1.8" fill="#e9e9e9"/>
<circle cx="89.27" cy="219.23" r="1.8" fill="#e9e9e9"/>
<circle cx="94.94" cy="219.23" r="1.8" fill="#e9e9e9"/>
<circle cx="100.61" cy="219.23" r="1.8" fill="#e9e9e9"/>
<circle cx="106.28" cy="219.23" r="1.8" fill="#e9e9e9"/>
<circle cx="111.95" cy="219.23" r="1.8" fill="#e9e9e9"/>
<circle cx="117.62" cy="219.23" r="1.8" fill="#e9e9e9"/>
<circle cx="123.29" cy="219.23" r="1.8" fill="#e9e9e9"/>
<circle cx="128.96" cy="219.23" r="1.8" fill="#e9e9e9"/>
<circle cx="134.63" cy="219.23" r="1.8" fill="#e9e9e9"/>
<circle cx="140.30" cy="219.23" r="1.8" fill="#e9e9e9"/>
<circle cx="145.97" cy="219.23" r="1.8" fill="#e9e9e9"/>
<circle cx="151.64" cy="219.23" r="1.8" fill="#e9e9e9"/>
<circle cx="157.31" cy="219.23" r="1.8" fill="#e9e9e9"/>
<circle cx="162.98" cy="219.23" r="1.8" fill="#e9e9e9"/>
<circle cx="168.65" cy="219.23" r="1.8" fill="#e9e9e9"/>
<circle cx="174.32" cy="219.23" r="1.8" fill="#e9e9e9"/>
<circle cx="179.99" cy="219.23" r="1.8" fill="#e9e9e9"/>
<circle cx="185.66" cy="219.23" r="1.8" fill="#e9e9e9"/>
<circle cx="83.60" cy="224.36" r="1.8" fill="#e9e9e9"/>
<circle cx="89.27" cy="224.36" r="1.8" fill="#e9e9e9"/>
<circle cx="94.94" cy="224.36" r="1.8" fill="#e9e9e9"/>
<circle cx="100.61" cy="224.36" r="1.8" fill="#e9e9e9"/>
<circle cx="106.28" cy="224.36" r="1.8" fill="#e9e9e9"/>
<circle cx="111.95" cy="224.36" r="1.8" fill="#e9e9e9"/>
<circle cx="117.62" cy="224.36" r="1.8" fill="#e9e9e9"/>
<circle cx="123.29" cy="224.36" r="1.8" fill="#e9e9e9"/>
<circle cx="128.96" cy="224.36" r="1.8" fill="#e9e9e9"/>
<circle cx="134.63" cy="224.36" r="1.8" fill="#e9e9e9"/>
<circle cx="140.30" cy="224.36" r="1.8" fill="#e9e9e9"/>
<circle cx="145.97" cy="224.36" r="1.8" fill="#e9e9e9"/>
<circle cx="151.64" cy="224.36" r="1.8" fill="#e9e9e9"/>
<circle cx="157.31" cy="224.36" r="1.8" fill="#e9e9e9"/>
<circle cx="162.98" cy="224.36" r="1.8" fill="#e9e9e9"/>
<circle cx="168.65" cy="224.36" r="1.8" fill="#e9e9e9"/>
<circle cx="174.32" cy="224.36" r="1.8" fill="#e9e9e9"/>
<circle cx="179.99" cy="224.36" r="1.8" fill="#e9e9e9"/>
<circle cx="185.66" cy="224.36" r="1.8" fill="#e9e9e9"/>
<circle cx="83.60" cy="229.49" r="1.8" fill="#e9e9e9"/>
<circle cx="89.27" cy="229.49" r="1.8" fill="#e9e9e9"/>
<circle cx="94.94" cy="229.49" r="1.8" fill="#e9e9e9"/>
<circle cx="100.61" cy="229.49" r="1.8" fill="#e9e9e9"/>
<circle cx="106.28" cy="229.49" r="1.8" fill="#e9e9e9"/>
<circle cx="111.95" cy="229.49" r="1.8" fill="#e9e9e9"/>
<circle cx="117.62" cy="229.49" r="1.8" fill="#e9e9e9"/>
<circle cx="123.29" cy="229.49" r="1.8" fill="#e9e9e9"/>
<circle cx="128.96" cy="229.49" r="1.8" fill="#e9e9e9"/>
<circle cx="134.63" cy="229.49" r="1.8" fill="#e9e9e9"/>
<circle cx="140.30" cy="229.49" r="1.8" fill="#e9e9e9"/>
<circle cx="145.97" cy="229.49" r="1.8" fill="#e9e9e9"/>
<circle cx="151.64" cy="229.49" r="1.8" fill="#e9e9e9"/>
<circle cx="157.31" cy="229.49" r="1.8" fill="#e9e9e9"/>
<circle cx="162.98" cy="229.49" r="1.8" fill="#e9e9e9"/>
<circle cx="168.65" cy="229.49" r="1.8" fill="#e9e9e9"/>
<circle cx="174.32" cy="229.49" r="1.8" fill="#e9e9e9"/>
<circle cx="179.99" cy="229.49" r="1.8" fill="#e9e9e9"/>
<circle cx="185.66" cy="229.49" r="1.8" fill="#e9e9e9"/>
<circle cx="83.60" cy="234.62" r="1.8" fill="#e9e9e9"/>
<circle cx="89.27" cy="234.62" r="1.8" fill="#e9e9e9"/>
<circle cx="94.94" cy="234.62" r="1.8" fill="#e9e9e9"/>
<circle cx="100.61" cy="234.62" r="1.8" fill="#e9e9e9"/>
<circle cx="106.28" cy="234.62" r="1.8" fill="#e9e9e9"/>
<circle cx="111.95" cy="234.62" r="1.8" fill="#e9e9e9"/>
<circle cx="117.62" cy="234.62" r="1.8" fill="#e9e9e9"/>
<circle cx="123.29" cy="234.62" r="1.8" fill="#e9e9e9"/>
<circle cx="128.96" cy="234.62" r="1.8" fill="#e9e9e9"/>
<circle cx="134.63" cy="234.62" r="1.8" fill="#e9e9e9"/>
<circle cx="140.30" cy="234.62" r="1.8" fill="#e9e9e9"/>
<circle cx="145.97" cy="234.62" r="1.8" fill="#e9e9e9"/>
<circle cx="151.64" cy="234.62" r="1.8" fill="#e9e9e9"/>
<circle cx="157.31" cy="234.62" r="1.8" fill="#e9e9e9"/>
<circle cx="162.98" cy="234.62" r="1.8" fill="#e9e9e9"/>
<circle cx="168.65" cy="234.62" r="1.8" fill="#e9e9e9"/>
<circle cx="174.32" cy="234.62" r="1.8" fill="#e9e9e9"/>
<circle cx="179.99" cy="234.62" r="1.8" fill="#e9e9e9"/>
<circle cx="185.66" cy="234.62" r="1.8" fill="#e9e9e9"/>
<circle cx="83.60" cy="239.75" r="1.8" fill="#e9e9e9"/>
<circle cx="89.27" cy="239.75" r="1.8" fill="#e9e9e9"/>
<circle cx="94.94" cy="239.75" r="1.8" fill="#e9e9e9"/>
<circle cx="100.61" cy="239.75" r="1.8" fill="#e9e9e9"/>
<circle cx="106.28" cy="239.75" r="1.8" fill="#e9e9e9"/>
<circle cx="111.95" cy="239.75" r="1.8" fill="#e9e9e9"/>
<circle cx="117.62" cy="239.75" r="1.8" fill="#e9e9e9"/>
<circle cx="123.29" cy="239.75" r="1.8" fill="#e9e9e9"/>
<circle cx="128.96" cy="239.75" r="1.8" fill="#e9e9e9"/>
<circle cx="134.63" cy="239.75" r="1.8" fill="#e9e9e9"/>
<circle cx="140.30" cy="239.75" r="1.8" fill="#e9e9e9"/>
<circle cx="145.97" cy="239.75" r="1.8" fill="#e9e9e9"/>
<circle cx="151.64" cy="239.75" r="1.8" fill="#e9e9e9"/>
<circle cx="157.31" cy="239.75" r="1.8" fill="#e9e9e9"/>
<circle cx="162.98" cy="239.75" r="1.8" fill="#e9e9e9"/>
<circle cx="168.65" cy="239.75" r="1.8" fill="#e9e9e9"/>
<circle cx="174.32" cy="239.75" r="1.8" fill="#e9e9e9"/>
<circle cx="179.99" cy="239.75" r="1.8" fill="#e9e9e9"/>
<circle cx="185.66" cy="239.75" r="1.8" fill="#e9e9e9"/>
<circle cx="83.60" cy="244.88" r="1.8" fill="#e9e9e9"/>
<circle cx="89.27" cy="244.88" r="1.8" fill="#e9e9e9"/>
<circle cx="94.94" cy="244.88" r="1.8" fill="#e9e9e9"/>
<circle cx="100.61" cy="244.88" r="1.8" fill="#e9e9e9"/>
<circle cx="106.28" cy="244.88" r="1.8" fill="#e9e9e9"/>
<circle cx="111.95" cy="244.88" r="1.8" fill="#e9e9e9"/>
<circle cx="117.62" cy="244.88" r="1.8" fill="#e9e9e9"/>
<circle cx="123.29" cy="244.88" r="1.8" fill="#e9e9e9"/>
<circle cx="128.96" cy="244.88" r="1.8" fill="#e9e9e9"/>
<circle cx="134.63" cy="244.88" r="1.8" fill="#e9e9e9"/>
<circle cx="140.30" cy="244.88" r="1.8" fill="#e9e9e9"/>
<circle cx="145.97" cy="244.88" r="1.8" fill="#e9e9e9"/>
<circle cx="151.64" cy="244.88" r="1.8" fill="#e9e9e9"/>
<circle cx="157.31" cy="244.88" r="1.8" fill="#e9e9e9"/>
<circle cx="162.98" cy="244.88" r="1.8" fill="#e9e9e9"/>
<circle cx="168.65" cy="244.88" r="1.8" fill="#e9e9e9"/>
<circle cx="174.32" cy="244.88" r="1.8" fill="#e9e9e9"/>
<circle cx="179.99" cy="244.88" r="1.8" fill="#e9e9e9"/>
<circle cx="185.66" cy="244.88" r="1.8" fill="#e9e9e9"/>
<circle cx="83.60" cy="250.01" r="1.8" fill="#e9e9e9"/>
<circle cx="89.27" cy="250.01" r="1.8" fill="#e9e9e9"/>
<circle cx="94.94" cy="250.01" r="1.8" fill="#e9e9e9"/>
<circle cx="100.61" cy="250.01" r="1.8" fill="#e9e9e9"/>
<circle cx="106.28" cy="250.01" r="1.8" fill="#e9e9e9"/>
<circle cx="111.95" cy="250.01" r="1.8" fill="#e9e9e9"/>
<circle cx="117.62" cy="250.01" r="1.8" fill="#e9e9e9"/>
<circle cx="123.29" cy="250.01" r="1.8" fill="#e9e9e9"/>
<circle cx="128.96" cy="250.01" r="1.8" fill="#e9e9e9"/>
<circle cx="134.63" cy="250.01" r="1.8" fill="#e9e9e9"/>
<circle cx="140.30" cy="250.01" r="1.8" fill="#e9e9e9"/>
<circle cx="145.97" cy="250.01" r="1.8" fill="#e9e9e9"/>
<circle cx="151.64" cy="250.01" r="1.8" fill="#e9e9e9"/>
<circle cx="157.31" cy="250.01" r="1.8" fill="#e9e9e9"/>
<circle cx="162.98" cy="250.01" r="1.8" fill="#e9e9e9"/>
<circle cx="168.65" cy="250.01" r="1.8" fill="#e9e9e9"/>
<circle cx="174.32" cy="250.01" r="1.8" fill="#e9e9e9"/>
<circle cx="179.99" cy="250.01" r="1.8" fill="#e9e9e9"/>
<circle cx="185.66" cy="250.01" r="1.8" fill="#e9e9e9"/>
<circle cx="83.60" cy="255.14" r="1.8" fill="#e9e9e9"/>
<circle cx="89.27" cy="255.14" r="1.8" fill="#e9e9e9"/>
<circle cx="94.94" cy="255.14" r="1.8" fill="#e9e9e9"/>
<circle cx="100.61" cy="255.14" r="1.8" fill="#e9e9e9"/>
<circle cx="106.28" cy="255.14" r="1.8" fill="#e9e9e9"/>
<circle cx="111.95" cy="255.14" r="1.8" fill="#e9e9e9"/>
<circle cx="117.62" cy="255.14" r="1.8" fill="#e9e9e9"/>
<circle cx="123.29" cy="255.14" r="1.8" fill="#e9e9e9"/>
<circle cx="128.96" cy="255.14" r="1.8" fill="#e9e9e9"/>
<circle cx="134.63" cy="255.14" r="1.8" fill="#e9e9e9"/>
<circle cx="140.30" cy="255.14" r="1.8" fill="#e9e9e9"/>
<circle cx="145.97" cy="255.14" r="1.8" fill="#e9e9e9"/>
<circle cx="151.64" cy="255.14" r="1.8" fill="#e9e9e9"/>
<circle cx="157.31" cy="255.14" r="1.8" fill="#e9e9e9"/>
<circle cx="162.98" cy="255.14" r="1.8" fill="#e9e9e9"/>
<circle cx="168.65" cy="255.14" r="1.8" fill="#e9e9e9"/>
<circle cx="174.32" cy="255.14" r="1.8" fill="#e9e9e9"/>
<circle cx="179.99" cy="255.14" r="1.8" fill="#e9e9e9"/>
<circle cx="185.66" cy="255.14" r="1.8" fill="#e9e9e9"/>
<circle cx="83.60" cy="260.27" r="1.8" fill="#e9e9e9"/>
<circle cx="89.27" cy="260.27" r="1.8" fill="#e9e9e9"/>
<circle cx="94.94" cy="260.27" r="1.8" fill="#e9e9e9"/>
<circle cx="100.61" cy="260.27" r="1.8" fill="#e9e9e9"/>
<circle cx="106.28" cy="260.27" r="1.8" fill="#e9e9e9"/>
<circle cx="111.95" cy="260.27" r="1.8" fill="#e9e9e9"/>
<circle cx="117.62" cy="260.27" r="1.8" fill="#e9e9e9"/>
<circle cx="123.29" cy="260.27" r="1.8" fill="#e9e9e9"/>
<circle cx="128.96" cy="260.27" r="1.8" fill="#e9e9e9"/>
<circle cx="134.63" cy="260.27" r="1.8" fill="#e9e9e9"/>
<circle cx="140.30" cy="260.27" r="1.8" fill="#e9e9e9"/>
<circle cx="145.97" cy="260.27" r="1.8" fill="#e9e9e9"/>
<circle cx="151.64" cy="260.27" r="1.8" fill="#e9e9e9"/>
<circle cx="157.31" cy="260.27" r="1.8" fill="#e9e9e9"/>
<circle cx="162.98" cy="260.27" r="1.8" fill="#e9e9e9"/>
<circle cx="168.65" cy="260.27" r="1.8" fill="#e9e9e9"/>
<circle cx="174.32" cy="260.27" r="1.8" fill="#e9e9e9"/>
<circle cx="179.99" cy="260.27" r="1.8" fill="#e9e9e9"/>
<circle cx="185.66" cy="260.27" r="1.8" fill="#e9e9e9"/>
<circle cx="83.60" cy="265.40" r="1.8" fill="#e9e9e9"/>
<circle cx="89.27" cy="265.40" r="1.8" fill="#e9e9e9"/>
<circle cx="94.94" cy="265.40" r="1.8" fill="#e9e9e9"/>
<circle cx="100.61" cy="265.40" r="1.8" fill="#e9e9e9"/>
<circle cx="106.28" cy="265.40" r="1.8" fill="#e9e9e9"/>
<circle cx="111.95" cy="265.40" r="1.8" fill="#e9e9e9"/>
<circle cx="117.62" cy="265.40" r="1.8" fill="#e9e9e9"/>
<circle cx="123.29" cy="265.40" r="1.8" fill="#e9e9e9"/>
<circle cx="128.96" cy="265.40" r="1.8" fill="#e9e9e9"/>
<circle cx="134.63" cy="265.40" r="1.8" fill="#e9e9e9"/>
<circle cx="140.30" cy="265.40" r="1.8" fill="#e9e9e9"/>
<circle cx="145.97" cy="265.40" r="1.8" fill="#e9e9e9"/>
<circle cx="151.64" cy="265.40" r="1.8" fill="#e9e9e9"/>
<circle cx="157.31" cy="265.40" r="1.8" fill="#e9e9e9"/>
<circle cx="162.98" cy="265.40" r="1.8" fill="#e9e9e9"/>
<circle cx="168.65" cy="265.40" r="1.8" fill="#e9e9e9"/>
<circle cx="174.32" cy="265.40" r="1.8" fill="#e9e9e9"/>
<circle cx="179.99" cy="265.40" r="1.8" fill="#e9e9e9"/>
<circle cx="185.66" cy="265.40" r="1.8" fill="#e9e9e9"/>
<circle cx="83.60" cy="270.53" r="1.8" fill="#e9e9e9"/>
<circle cx="89.27" cy="270.53" r="1.8" fill="#e9e9e9"/>
<circle cx="94.94" cy="270.53" r="1.8" fill="#e9e9e9"/>
<circle cx="100.61" cy="270.53" r="1.8" fill="#e9e9e9"/>
<circle cx="106.28" cy="270.53" r="1.8" fill="#e9e9e9"/>
<circle cx="111.95" cy="270.53" r="1.8" fill="#e9e9e9"/>
<circle cx="117.62" cy="270.53" r="1.8" fill="#e9e9e9"/>
<circle cx="123.29" cy="270.53" r="1.8" fill="#e9e9e9"/>
<circle cx="128.96" cy="270.53" r="1.8" fill="#e9e9e9"/>
<circle cx="134.63" cy="270.53" r="1.8" fill="#e9e9e9"/>
<circle cx="140.30" cy="270.53" r="1.8" fill="#e9e9e9"/>
<circle cx="145.97" cy="270.53" r="1.8" fill="#e9e9e9"/>
<circle cx="151.64" cy="270.53" r="1.8" fill="#e9e9e9"/>
<circle cx="157.31" cy="270.53" r="1.8" fill="#e9e9e9"/>
<circle cx="162.98" cy="270.53" r="1.8" fill="#e9e9e9"/>
<circle cx="168.65" cy="270.53" r="1.8" fill="#e9e9e9"/>
<circle cx="174.32" cy="270.53" r="1.8" fill="#e9e9e9"/>
<circle cx="179.99" cy="270.53" r="1.8" fill="#e9e9e9"/>
<circle cx="185.66" cy="270.53" r="1.8" fill="#e9e9e9"/>
<circle cx="83.60" cy="275.66" r="1.8" fill="#e9e9e9"/>
<circle cx="89.27" cy="275.66" r="1.8" fill="#e9e9e9"/>
<circle cx="94.94" cy="275.66" r="1.8" fill="#e9e9e9"/>
<circle cx="100.61" cy="275.66" r="1.8" fill="#e9e9e9"/>
<circle cx="106.28" cy="275.66" r="1.8" fill="#e9e9e9"/>
<circle cx="111.95" cy="275.66" r="1.8" fill="#e9e9e9"/>
<circle cx="117.62" cy="275.66" r="1.8" fill="#e9e9e9"/>
<circle cx="123.29" cy="275.66" r="1.8" fill="#e9e9e9"/>
<circle cx="128.96" cy="275.66" r="1.8" fill="#e9e9e9"/>
<circle cx="134.63" cy="275.66" r="1.8" fill="#e9e9e9"/>
<circle cx="140.30" cy="275.66" r="1.8" fill="#e9e9e9"/>
<circle cx="145.97" cy="275.66" r="1.8" fill="#e9e9e9"/>
<circle cx="151.64" cy="275.66" r="1.8" fill="#e9e9e9"/>
<circle cx="157.31" cy="275.66" r="1.8" fill="#e9e9e9"/>
<circle cx="162.98" cy="275.66" r="1.8" fill="#e9e9e9"/>
<circle cx="168.65" cy="275.66" r="1.8" fill="#e9e9e9"/>
<circle cx="174.32" cy="275.66" r="1.8" fill="#e9e9e9"/>
<circle cx="179.99" cy="275.66" r="1.8" fill="#e9e9e9"/>
<circle cx="185.66" cy="275.66" r="1.8" fill="#e9e9e9"/>
<circle cx="83.60" cy="280.79" r="1.8" fill="#e9e9e9"/>
<circle cx="89.27" cy="280.79" r="1.8" fill="#e9e9e9"/>
<circle cx="94.94" cy="280.79" r="1.8" fill="#e9e9e9"/>
<circle cx="100.61" cy="280.79" r="1.8" fill="#e9e9e9"/>
<circle cx="106.28" cy="280.79" r="1.8" fill="#e9e9e9"/>
<circle cx="111.95" cy="280.79" r="1.8" fill="#e9e9e9"/>
<circle cx="117.62" cy="280.79" r="1.8" fill="#e9e9e9"/>
<circle cx="123.29" cy="280.79" r="1.8" fill="#e9e9e9"/>
<circle cx="128.96" cy="280.79" r="1.8" fill="#e9e9e9"/>
<circle cx="134.63" cy="280.79" r="1.8" fill="#e9e9e9"/>
<circle cx="140.30" cy="280.79" r="1.8" fill="#e9e9e9"/>
<circle cx="145.97" cy="280.79" r="1.8" fill="#e9e9e9"/>
<circle cx="151.64" cy="280.79" r="1.8" fill="#e9e9e9"/>
<circle cx="157.31" cy="280.79" r="1.8" fill="#e9e9e9"/>
<circle cx="162.98" cy="280.79" r="1.8" fill="#e9e9e9"/>
<circle cx="168.65" cy="280.79" r="1.8" fill="#e9e9e9"/>
<circle cx="174.32" cy="280.79" r="1.8" fill="#e9e9e9"/>
<circle cx="179.99" cy="280.79" r="1.8" fill="#e9e9e9"/>
<circle cx="185.66" cy="280.79" r="1.8" fill="#e9e9e9"/>
<circle cx="83.60" cy="285.92" r="1.8" fill="#e9e9e9"/>
<circle cx="89.27" cy="285.92" r="1.8" fill="#e9e9e9"/>
<circle cx="94.94" cy="285.92" r="1.8" fill="#e9e9e9"/>
<circle cx="100.61" cy="285.92" r="1.8" fill="#e9e9e9"/>
<circle cx="106.28" cy="285.92" r="1.8" fill="#e9e9e9"/>
<circle cx="111.95" cy="285.92" r="1.8" fill="#e9e9e9"/>
<circle cx="117.62" cy="285.92" r="1.8" fill="#e9e9e9"/>
<circle cx="123.29" cy="285.92" r="1.8" fill="#e9e9e9"/>
<circle cx="128.96" cy="285.92" r="1.8" fill="#e9e9e9"/>
<circle cx="134.63" cy="285.92" r="1.8" fill="#e9e9e9"/>
<circle cx="140.30" cy="285.92" r="1.8" fill="#e9e9e9"/>
<circle cx="145.97" cy="285.92" r="1.8" fill="#e9e9e9"/>
<circle cx="151.64" cy="285.92" r="1.8" fill="#e9e9e9"/>
<circle cx="157.31" cy="285.92" r="1.8" fill="#e9e9e9"/>
<circle cx="162.98" cy="285.92" r="1.8" fill="#e9e9e9"/>
<circle cx="168.65" cy="285.92" r="1.8" fill="#e9e9e9"/>
<circle cx="174.32" cy="285.92" r="1.8" fill="#e9e9e9"/>
<circle cx="179.99" cy="285.92" r="1.8" fill="#e9e9e9"/>
<circle cx="185.66" cy="285.92" r="1.8" fill="#e9e9e9"/>
<circle cx="83.60" cy="291.05" r="1.8" fill="#e9e9e9"/>
<circle cx="89.27" cy="291.05" r="1.8" fill="#e9e9e9"/>
<circle cx="94.94" cy="291.05" r="1.8" fill="#e9e9e9"/>
<circle cx="100.61" cy="291.05" r="1.8" fill="#e9e9e9"/>
<circle cx="106.28" cy="291.05" r="1.8" fill="#e9e9e9"/>
<circle cx="111.95" cy="291.05" r="1.8" fill="#e9e9e9"/>
<circle cx="117.62" cy="291.05" r="1.8" fill="#e9e9e9"/>
<circle cx="123.29" cy="291.05" r="1.8" fill="#e9e9e9"/>
<circle cx="128.96" cy="291.05" r="1.8" fill="#e9e9e9"/>
<circle cx="134.63" cy="291.05" r="1.8" fill="#e9e9e9"/>
<circle cx="140.30" cy="291.05" r="1.8" fill="#e9e9e9"/>
<circle cx="145.97" cy="291.05" r="1.8" fill="#e9e9e9"/>
<circle cx="151.64" cy="291.05" r="1.8" fill="#e9e9e9"/>
<circle cx="157.31" cy="291.05" r="1.8" fill="#e9e9e9"/>
<circle cx="162.98" cy="291.05" r="1.8" fill="#e9e9e9"/>
<circle cx="168.65" cy="291.05" r="1.8" fill="#e9e9e9"/>
<circle cx="174.32" cy="291.05" r="1.8" fill="#e9e9e9"/>
<circle cx="179.99" cy="291.05" r="1.8" fill="#e9e9e9"/>
<circle cx="185.66" cy="291.05" r="1.8" fill="#e9e9e9"/>
<circle cx="83.60" cy="296.18" r="1.8" fill="#e9e9e9"/>
<circle cx="89.27" cy="296.18" r="1.8" fill="#e9e9e9"/>
<circle cx="94.94" cy="296.18" r="1.8" fill="#e9e9e9"/>
<circle cx="100.61" cy="296.18" r="1.8" fill="#e9e9e9"/>
<circle cx="106.28" cy="296.18" r="1.8" fill="#e9e9e9"/>
<circle cx="111.95" cy="296.18" r="1.8" fill="#e9e9e9"/>
<circle cx="117.62" cy="296.18" r="1.8" fill="#e9e9e9"/>
<circle cx="123.29" cy="296.18" r="1.8" fill="#e9e9e9"/>
<circle cx="128.96" cy="296.18" r="1.8" fill="#e9e9e9"/>
<circle cx="134.63" cy="296.18" r="1.8" fill="#e9e9e9"/>
<circle cx="140.30" cy="296.18" r="1.8" fill="#e9e9e9"/>
<circle cx="145.97" cy="296.18" r="1.8" fill="#e9e9e9"/>
<circle cx="151.64" cy="296.18" r="1.8" fill="#e9e9e9"/>
<circle cx="157.31" cy="296.18" r="1.8" fill="#e9e9e9"/>
<circle cx="162.98" cy="296.18" r="1.8" fill="#e9e9e9"/>
<circle cx="168.65" cy="296.18" r="1.8" fill="#e9e9e9"/>
<circle cx="174.32" cy="296.18" r="1.8" fill="#e9e9e9"/>
<circle cx="179.99" cy="296.18" r="1.8" fill="#e9e9e9"/>
<circle cx="185.66" cy="296.18" r="1.8" fill="#e9e9e9"/>
<circle cx="83.60" cy="301.31" r="1.8" fill="#e9e9e9"/>
<circle cx="89.27" cy="301.31" r="1.8" fill="#e9e9e9"/>
<circle cx="94.94" cy="301.31" r="1.8" fill="#e9e9e9"/>
<circle cx="100.61" cy="301.31" r="1.8" fill="#e9e9e9"/>
<circle cx="106.28" cy="301.31" r="1.8" fill="#e9e9e9"/>
<circle cx="111.95" cy="301.31" r="1.8" fill="#e9e9e9"/>
<circle cx="117.62" cy="301.31" r="1.8" fill="#e9e9e9"/>
<circle cx="123.29" cy="301.31" r="1.8" fill="#e9e9e9"/>
<circle cx="128.96" cy="301.31" r="1.8" fill="#e9e9e9"/>
<circle cx="134.63" cy="301.31" r="1.8" fill="#e9e9e9"/>
<circle cx="140.30" cy="301.31" r="1.8" fill="#e9e9e9"/>
<circle cx="145.97" cy="301.31" r="1.8" fill="#e9e9e9"/>
<circle cx="151.64" cy="301.31" r="1.8" fill="#e9e9e9"/>
<circle cx="157.31" cy="301.31" r="1.8" fill="#e9e9e9"/>
<circle cx="162.98" cy="301.31" r="1.8" fill="#e9e9e9"/>
<circle cx="168.65" cy="301.31" r="1.8" fill="#e9e9e9"/>
<circle cx="174.32" cy="301.31" r="1.8" fill="#e9e9e9"/>
<circle cx="179.99" cy="301.31" r="1.8" fill="#e9e9e9"/>
<circle cx="185.66" cy="301.31" r="1.8" fill="#e9e9e9"/>
<rect x="185.21" y="214.10" width="0.9" height="30.78" fill="#000"/>
<ellipse cx="117.62" cy="214.10" rx="2.35" ry="2.05" fill="#000"/>
<ellipse cx="185.66" cy="214.10" rx="2.35" ry="2.05" fill="#000"/>
<ellipse cx="100.61" cy="219.23" rx="2.35" ry="2.05" fill="#000"/>
<ellipse cx="83.60" cy="224.36" rx="2.35" ry="2.05" fill="#000"/>
<ellipse cx="89.27" cy="229.49" rx="2.35" ry="2.05" fill="#000"/>
<ellipse cx="94.94" cy="234.62" rx="2.35" ry="2.05" fill="#000"/>
<ellipse cx="106.28" cy="239.75" rx="2.35" ry="2.05" fill="#000"/>
<ellipse cx="128.96" cy="244.88" rx="2.35" ry="2.05" fill="#000"/>
<ellipse cx="185.66" cy="244.88" rx="2.35" ry="2.05" fill="#000"/>
<ellipse cx="123.29" cy="250.01" rx="2.35" ry="2.05" fill="#000"/>
<ellipse cx="134.63" cy="255.14" rx="2.35" ry="2.05" fill="#000"/>
<ellipse cx="140.30" cy="260.27" rx="2.35" ry="2.05" fill="#000"/>
<ellipse cx="145.97" cy="265.40" rx="2.35" ry="2.05" fill="#000"/>
<ellipse cx="151.64" cy="270.53" rx="2.35" ry="2.05" fill="#000"/>
<ellipse cx="157.31" cy="275.66" rx="2.35" ry="2.05" fill="#000"/>
<ellipse cx="179.99" cy="280.79" rx="2.35" ry="2.05" fill="#000"/>
<ellipse cx="174.32" cy="285.92" rx="2.35" ry="2.05" fill="#000"/>
<ellipse cx="168.65" cy="291.05" rx="2.35" ry="2.05" fill="#000"/>
<ellipse cx="162.98" cy="296.18" rx="2.35" ry="2.05" fill="#000"/>
<ellipse cx="111.95" cy="301.31" rx="2.35" ry="2.05" fill="#000"/>
<rect x="36.42" y="212.50" width="4.3" height="3.2" fill="#1e88e5"/>
<text x="72.40" y="215.80" font-family='"Liberation Serif", serif' font-size="5.0" font-weight="bold" text-anchor="end" fill="#000" textLength="29.58" lengthAdjust="spacingAndGlyphs" stroke="#000" stroke-width="0.1" >(A) &lt;=0.03</text>
<rect x="31.16" y="217.63" width="4.3" height="3.2" fill="#f4511e"/>
<text x="72.40" y="220.93" font-family='"Liberation Serif", serif' font-size="5.0" font-weight="bold" text-anchor="end" fill="#000" textLength="34.84" lengthAdjust="spacingAndGlyphs" stroke="#000" stroke-width="0.1" >(B)0.03–0.05</text>
<rect x="30.80" y="222.76" width="4.3" height="3.2" fill="#fb8c00"/>
<text x="72.40" y="226.06" font-family='"Liberation Serif", serif' font-size="5.0" font-weight="bold" text-anchor="end" fill="#000" textLength="35.20" lengthAdjust="spacingAndGlyphs" stroke="#000" stroke-width="0.1" >(C)0.05–0.07</text>
<rect x="30.80" y="227.89" width="4.3" height="3.2" fill="#1e9e2e"/>
<text x="72.40" y="231.19" font-family='"Liberation Serif", serif' font-size="5.0" font-weight="bold" text-anchor="end" fill="#000" textLength="35.20" lengthAdjust="spacingAndGlyphs" stroke="#000" stroke-width="0.1" >(D)0.07–0.10</text>
<rect x="31.16" y="233.02" width="4.3" height="3.2" fill="#a41fa8"/>
<text x="72.40" y="236.32" font-family='"Liberation Serif", serif' font-size="5.0" font-weight="bold" text-anchor="end" fill="#000" textLength="34.84" lengthAdjust="spacingAndGlyphs" stroke="#000" stroke-width="0.1" >(E)0.10–0.13</text>
<rect x="31.53" y="238.15" width="4.3" height="3.2" fill="#1ea0dc"/>
<text x="72.40" y="241.45" font-family='"Liberation Serif", serif' font-size="5.0" font-weight="bold" text-anchor="end" fill="#000" textLength="34.47" lengthAdjust="spacingAndGlyphs" stroke="#000" stroke-width="0.1" >(F)0.13–0.15</text>
<rect x="30.44" y="243.28" width="4.3" height="3.2" fill="#ec407a"/>
<text x="72.40" y="246.58" font-family='"Liberation Serif", serif' font-size="5.0" font-weight="bold" text-anchor="end" fill="#000" textLength="35.56" lengthAdjust="spacingAndGlyphs" stroke="#000" stroke-width="0.1" >(G)0.15–0.17</text>
<rect x="30.44" y="248.41" width="4.3" height="3.2" fill="#6ab023"/>
<text x="72.40" y="251.71" font-family='"Liberation Serif", serif' font-size="5.0" font-weight="bold" text-anchor="end" fill="#000" textLength="35.56" lengthAdjust="spacingAndGlyphs" stroke="#000" stroke-width="0.1" >(H)0.17–0.20</text>
<rect x="32.98" y="253.54" width="4.3" height="3.2" fill="#e02424"/>
<text x="72.40" y="256.84" font-family='"Liberation Serif", serif' font-size="5.0" font-weight="bold" text-anchor="end" fill="#000" textLength="33.02" lengthAdjust="spacingAndGlyphs" stroke="#000" stroke-width="0.1" >(I)0.20–0.23</text>
<rect x="32.26" y="258.67" width="4.3" height="3.2" fill="#1565c0"/>
<text x="72.40" y="261.97" font-family='"Liberation Serif", serif' font-size="5.0" font-weight="bold" text-anchor="end" fill="#000" textLength="33.74" lengthAdjust="spacingAndGlyphs" stroke="#000" stroke-width="0.1" >(J)0.23–0.25</text>
<rect x="30.44" y="263.80" width="4.3" height="3.2" fill="#ab47bc"/>
<text x="72.40" y="267.10" font-family='"Liberation Serif", serif' font-size="5.0" font-weight="bold" text-anchor="end" fill="#000" textLength="35.56" lengthAdjust="spacingAndGlyphs" stroke="#000" stroke-width="0.1" >(K)0.25–0.28</text>
<rect x="31.16" y="268.93" width="4.3" height="3.2" fill="#26c0b0"/>
<text x="72.40" y="272.23" font-family='"Liberation Serif", serif' font-size="5.0" font-weight="bold" text-anchor="end" fill="#000" textLength="34.84" lengthAdjust="spacingAndGlyphs" stroke="#000" stroke-width="0.1" >(L)0.28–0.30</text>
<rect x="29.36" y="274.06" width="4.3" height="3.2" fill="#b8b428"/>
<text x="72.40" y="277.36" font-family='"Liberation Serif", serif' font-size="5.0" font-weight="bold" text-anchor="end" fill="#000" textLength="36.64" lengthAdjust="spacingAndGlyphs" stroke="#000" stroke-width="0.1" >(M)0.30–0.33</text>
<rect x="30.80" y="279.19" width="4.3" height="3.2" fill="#7c4dff"/>
<text x="72.40" y="282.49" font-family='"Liberation Serif", serif' font-size="5.0" font-weight="bold" text-anchor="end" fill="#000" textLength="35.20" lengthAdjust="spacingAndGlyphs" stroke="#000" stroke-width="0.1" >(N)0.33–0.35</text>
<rect x="30.44" y="284.32" width="4.3" height="3.2" fill="#ff7a10"/>
<text x="72.40" y="287.62" font-family='"Liberation Serif", serif' font-size="5.0" font-weight="bold" text-anchor="end" fill="#000" textLength="35.56" lengthAdjust="spacingAndGlyphs" stroke="#000" stroke-width="0.1" >(O)0.35–0.38</text>
<rect x="31.53" y="289.45" width="4.3" height="3.2" fill="#b01818"/>
<text x="72.40" y="292.75" font-family='"Liberation Serif", serif' font-size="5.0" font-weight="bold" text-anchor="end" fill="#000" textLength="34.47" lengthAdjust="spacingAndGlyphs" stroke="#000" stroke-width="0.1" >(P)0.38–0.40</text>
<rect x="30.44" y="294.58" width="4.3" height="3.2" fill="#7b1fa2"/>
<text x="72.40" y="297.88" font-family='"Liberation Serif", serif' font-size="5.0" font-weight="bold" text-anchor="end" fill="#000" textLength="35.56" lengthAdjust="spacingAndGlyphs" stroke="#000" stroke-width="0.1" >(Q)0.40–0.42</text>
<rect x="40.15" y="299.71" width="4.3" height="3.2" fill="#12a070"/>
<text x="72.40" y="303.01" font-family='"Liberation Serif", serif' font-size="5.0" font-weight="bold" text-anchor="end" fill="#000" textLength="25.85" lengthAdjust="spacingAndGlyphs" stroke="#000" stroke-width="0.1" >(R) &gt;0.42</text>
<text x="0" y="0" transform="translate(17.50,258.00) rotate(-90)" font-family='"Liberation Serif", serif' font-size="6.0" font-weight="bold" text-anchor="middle" dominant-baseline="central" textLength="59" lengthAdjust="spacingAndGlyphs" fill="#000" stroke="#000" stroke-width="0.22">Fraction genome altered</text>
<text x="180.00" y="156.80" font-family='"Liberation Sans", sans-serif' font-size="10.4" font-weight="normal" text-anchor="start" fill="#000"  stroke="#000" stroke-width="0.25" >C</text>
<rect x="247.0" y="148.4" width="1.0" height="60.3" fill="#888"/>
<rect x="247.0" y="207.9" width="78.5" height="0.9" fill="#888"/>
<rect x="245.6" y="196.25" width="1.6" height="0.6" fill="#888"/>
<text x="245.20" y="198.35" font-family='"Liberation Serif", serif' font-size="5.3" font-weight="bold" text-anchor="end" fill="#000" textLength="6.94" lengthAdjust="spacingAndGlyphs" stroke="#000" stroke-width="0.16" >50</text>
<rect x="245.6" y="184.80" width="1.6" height="0.6" fill="#888"/>
<text x="245.20" y="186.90" font-family='"Liberation Serif", serif' font-size="5.3" font-weight="bold" text-anchor="end" fill="#000" textLength="10.41" lengthAdjust="spacingAndGlyphs" stroke="#000" stroke-width="0.16" >100</text>
<rect x="245.6" y="173.35" width="1.6" height="0.6" fill="#888"/>
<text x="245.20" y="175.45" font-family='"Liberation Serif", serif' font-size="5.3" font-weight="bold" text-anchor="end" fill="#000" textLength="10.41" lengthAdjust="spacingAndGlyphs" stroke="#000" stroke-width="0.16" >150</text>
<rect x="245.6" y="161.90" width="1.6" height="0.6" fill="#888"/>
<text x="245.20" y="164.00" font-family='"Liberation Serif", serif' font-size="5.3" font-weight="bold" text-anchor="end" fill="#000" textLength="10.41" lengthAdjust="spacingAndGlyphs" stroke="#000" stroke-width="0.16" >200</text>
<rect x="245.6" y="150.45" width="1.6" height="0.6" fill="#888"/>
<text x="245.20" y="152.55" font-family='"Liberation Serif", serif' font-size="5.3" font-weight="bold" text-anchor="end" fill="#000" textLength="10.41" lengthAdjust="spacingAndGlyphs" stroke="#000" stroke-width="0.16" >250</text>
<text x="0" y="0" transform="translate(221.80,177.00) rotate(-90)" font-family='"Liberation Serif", serif' font-size="6.0" font-weight="bold" text-anchor="middle" dominant-baseline="central" textLength="34" lengthAdjust="spacingAndGlyphs" fill="#000" stroke="#000" stroke-width="0.22">Overlap count</text>
<rect x="255.00" y="156" width="4.5" height="52.30" fill="#000"/>
<rect x="260.90" y="156.4" width="4.5" height="51.90" fill="#000"/>
<rect x="266.80" y="157.6" width="4.5" height="50.70" fill="#000"/>
<rect x="272.70" y="174.1" width="4.5" height="34.20" fill="#000"/>
<rect x="278.60" y="187.1" width="4.5" height="21.20" fill="#000"/>
<rect x="284.50" y="188.7" width="4.5" height="19.60" fill="#000"/>
<rect x="290.40" y="195.3" width="4.5" height="13.00" fill="#000"/>
<rect x="296.30" y="196.3" width="4.5" height="12.00" fill="#000"/>
<rect x="302.20" y="197.2" width="4.5" height="11.10" fill="#000"/>
<rect x="308.10" y="199.6" width="4.5" height="8.70" fill="#000"/>
<rect x="314.00" y="199.6" width="4.5" height="8.70" fill="#000"/>
<circle cx="257.20" cy="216.20" r="1.85" fill="#e9e9e9"/>
<circle cx="263.10" cy="216.20" r="1.85" fill="#e9e9e9"/>
<circle cx="269.00" cy="216.20" r="1.85" fill="#e9e9e9"/>
<circle cx="274.90" cy="216.20" r="1.85" fill="#e9e9e9"/>
<circle cx="280.80" cy="216.20" r="1.85" fill="#e9e9e9"/>
<circle cx="286.70" cy="216.20" r="1.85" fill="#e9e9e9"/>
<circle cx="292.60" cy="216.20" r="1.85" fill="#e9e9e9"/>
<circle cx="298.50" cy="216.20" r="1.85" fill="#e9e9e9"/>
<circle cx="304.40" cy="216.20" r="1.85" fill="#e9e9e9"/>
<circle cx="310.30" cy="216.20" r="1.85" fill="#e9e9e9"/>
<circle cx="316.20" cy="216.20" r="1.85" fill="#e9e9e9"/>
<circle cx="257.20" cy="221.78" r="1.85" fill="#e9e9e9"/>
<circle cx="263.10" cy="221.78" r="1.85" fill="#e9e9e9"/>
<circle cx="269.00" cy="221.78" r="1.85" fill="#e9e9e9"/>
<circle cx="274.90" cy="221.78" r="1.85" fill="#e9e9e9"/>
<circle cx="280.80" cy="221.78" r="1.85" fill="#e9e9e9"/>
<circle cx="286.70" cy="221.78" r="1.85" fill="#e9e9e9"/>
<circle cx="292.60" cy="221.78" r="1.85" fill="#e9e9e9"/>
<circle cx="298.50" cy="221.78" r="1.85" fill="#e9e9e9"/>
<circle cx="304.40" cy="221.78" r="1.85" fill="#e9e9e9"/>
<circle cx="310.30" cy="221.78" r="1.85" fill="#e9e9e9"/>
<circle cx="316.20" cy="221.78" r="1.85" fill="#e9e9e9"/>
<circle cx="257.20" cy="227.36" r="1.85" fill="#e9e9e9"/>
<circle cx="263.10" cy="227.36" r="1.85" fill="#e9e9e9"/>
<circle cx="269.00" cy="227.36" r="1.85" fill="#e9e9e9"/>
<circle cx="274.90" cy="227.36" r="1.85" fill="#e9e9e9"/>
<circle cx="280.80" cy="227.36" r="1.85" fill="#e9e9e9"/>
<circle cx="286.70" cy="227.36" r="1.85" fill="#e9e9e9"/>
<circle cx="292.60" cy="227.36" r="1.85" fill="#e9e9e9"/>
<circle cx="298.50" cy="227.36" r="1.85" fill="#e9e9e9"/>
<circle cx="304.40" cy="227.36" r="1.85" fill="#e9e9e9"/>
<circle cx="310.30" cy="227.36" r="1.85" fill="#e9e9e9"/>
<circle cx="316.20" cy="227.36" r="1.85" fill="#e9e9e9"/>
<circle cx="257.20" cy="232.94" r="1.85" fill="#e9e9e9"/>
<circle cx="263.10" cy="232.94" r="1.85" fill="#e9e9e9"/>
<circle cx="269.00" cy="232.94" r="1.85" fill="#e9e9e9"/>
<circle cx="274.90" cy="232.94" r="1.85" fill="#e9e9e9"/>
<circle cx="280.80" cy="232.94" r="1.85" fill="#e9e9e9"/>
<circle cx="286.70" cy="232.94" r="1.85" fill="#e9e9e9"/>
<circle cx="292.60" cy="232.94" r="1.85" fill="#e9e9e9"/>
<circle cx="298.50" cy="232.94" r="1.85" fill="#e9e9e9"/>
<circle cx="304.40" cy="232.94" r="1.85" fill="#e9e9e9"/>
<circle cx="310.30" cy="232.94" r="1.85" fill="#e9e9e9"/>
<circle cx="316.20" cy="232.94" r="1.85" fill="#e9e9e9"/>
<circle cx="257.20" cy="238.52" r="1.85" fill="#e9e9e9"/>
<circle cx="263.10" cy="238.52" r="1.85" fill="#e9e9e9"/>
<circle cx="269.00" cy="238.52" r="1.85" fill="#e9e9e9"/>
<circle cx="274.90" cy="238.52" r="1.85" fill="#e9e9e9"/>
<circle cx="280.80" cy="238.52" r="1.85" fill="#e9e9e9"/>
<circle cx="286.70" cy="238.52" r="1.85" fill="#e9e9e9"/>
<circle cx="292.60" cy="238.52" r="1.85" fill="#e9e9e9"/>
<circle cx="298.50" cy="238.52" r="1.85" fill="#e9e9e9"/>
<circle cx="304.40" cy="238.52" r="1.85" fill="#e9e9e9"/>
<circle cx="310.30" cy="238.52" r="1.85" fill="#e9e9e9"/>
<circle cx="316.20" cy="238.52" r="1.85" fill="#e9e9e9"/>
<circle cx="257.20" cy="244.10" r="1.85" fill="#e9e9e9"/>
<circle cx="263.10" cy="244.10" r="1.85" fill="#e9e9e9"/>
<circle cx="269.00" cy="244.10" r="1.85" fill="#e9e9e9"/>
<circle cx="274.90" cy="244.10" r="1.85" fill="#e9e9e9"/>
<circle cx="280.80" cy="244.10" r="1.85" fill="#e9e9e9"/>
<circle cx="286.70" cy="244.10" r="1.85" fill="#e9e9e9"/>
<circle cx="292.60" cy="244.10" r="1.85" fill="#e9e9e9"/>
<circle cx="298.50" cy="244.10" r="1.85" fill="#e9e9e9"/>
<circle cx="304.40" cy="244.10" r="1.85" fill="#e9e9e9"/>
<circle cx="310.30" cy="244.10" r="1.85" fill="#e9e9e9"/>
<circle cx="316.20" cy="244.10" r="1.85" fill="#e9e9e9"/>
<circle cx="257.20" cy="249.68" r="1.85" fill="#e9e9e9"/>
<circle cx="263.10" cy="249.68" r="1.85" fill="#e9e9e9"/>
<circle cx="269.00" cy="249.68" r="1.85" fill="#e9e9e9"/>
<circle cx="274.90" cy="249.68" r="1.85" fill="#e9e9e9"/>
<circle cx="280.80" cy="249.68" r="1.85" fill="#e9e9e9"/>
<circle cx="286.70" cy="249.68" r="1.85" fill="#e9e9e9"/>
<circle cx="292.60" cy="249.68" r="1.85" fill="#e9e9e9"/>
<circle cx="298.50" cy="249.68" r="1.85" fill="#e9e9e9"/>
<circle cx="304.40" cy="249.68" r="1.85" fill="#e9e9e9"/>
<circle cx="310.30" cy="249.68" r="1.85" fill="#e9e9e9"/>
<circle cx="316.20" cy="249.68" r="1.85" fill="#e9e9e9"/>
<circle cx="257.20" cy="255.26" r="1.85" fill="#e9e9e9"/>
<circle cx="263.10" cy="255.26" r="1.85" fill="#e9e9e9"/>
<circle cx="269.00" cy="255.26" r="1.85" fill="#e9e9e9"/>
<circle cx="274.90" cy="255.26" r="1.85" fill="#e9e9e9"/>
<circle cx="280.80" cy="255.26" r="1.85" fill="#e9e9e9"/>
<circle cx="286.70" cy="255.26" r="1.85" fill="#e9e9e9"/>
<circle cx="292.60" cy="255.26" r="1.85" fill="#e9e9e9"/>
<circle cx="298.50" cy="255.26" r="1.85" fill="#e9e9e9"/>
<circle cx="304.40" cy="255.26" r="1.85" fill="#e9e9e9"/>
<circle cx="310.30" cy="255.26" r="1.85" fill="#e9e9e9"/>
<circle cx="316.20" cy="255.26" r="1.85" fill="#e9e9e9"/>
<circle cx="257.20" cy="260.84" r="1.85" fill="#e9e9e9"/>
<circle cx="263.10" cy="260.84" r="1.85" fill="#e9e9e9"/>
<circle cx="269.00" cy="260.84" r="1.85" fill="#e9e9e9"/>
<circle cx="274.90" cy="260.84" r="1.85" fill="#e9e9e9"/>
<circle cx="280.80" cy="260.84" r="1.85" fill="#e9e9e9"/>
<circle cx="286.70" cy="260.84" r="1.85" fill="#e9e9e9"/>
<circle cx="292.60" cy="260.84" r="1.85" fill="#e9e9e9"/>
<circle cx="298.50" cy="260.84" r="1.85" fill="#e9e9e9"/>
<circle cx="304.40" cy="260.84" r="1.85" fill="#e9e9e9"/>
<circle cx="310.30" cy="260.84" r="1.85" fill="#e9e9e9"/>
<circle cx="316.20" cy="260.84" r="1.85" fill="#e9e9e9"/>
<circle cx="257.20" cy="266.42" r="1.85" fill="#e9e9e9"/>
<circle cx="263.10" cy="266.42" r="1.85" fill="#e9e9e9"/>
<circle cx="269.00" cy="266.42" r="1.85" fill="#e9e9e9"/>
<circle cx="274.90" cy="266.42" r="1.85" fill="#e9e9e9"/>
<circle cx="280.80" cy="266.42" r="1.85" fill="#e9e9e9"/>
<circle cx="286.70" cy="266.42" r="1.85" fill="#e9e9e9"/>
<circle cx="292.60" cy="266.42" r="1.85" fill="#e9e9e9"/>
<circle cx="298.50" cy="266.42" r="1.85" fill="#e9e9e9"/>
<circle cx="304.40" cy="266.42" r="1.85" fill="#e9e9e9"/>
<circle cx="310.30" cy="266.42" r="1.85" fill="#e9e9e9"/>
<circle cx="316.20" cy="266.42" r="1.85" fill="#e9e9e9"/>
<circle cx="257.20" cy="272.00" r="1.85" fill="#e9e9e9"/>
<circle cx="263.10" cy="272.00" r="1.85" fill="#e9e9e9"/>
<circle cx="269.00" cy="272.00" r="1.85" fill="#e9e9e9"/>
<circle cx="274.90" cy="272.00" r="1.85" fill="#e9e9e9"/>
<circle cx="280.80" cy="272.00" r="1.85" fill="#e9e9e9"/>
<circle cx="286.70" cy="272.00" r="1.85" fill="#e9e9e9"/>
<circle cx="292.60" cy="272.00" r="1.85" fill="#e9e9e9"/>
<circle cx="298.50" cy="272.00" r="1.85" fill="#e9e9e9"/>
<circle cx="304.40" cy="272.00" r="1.85" fill="#e9e9e9"/>
<circle cx="310.30" cy="272.00" r="1.85" fill="#e9e9e9"/>
<circle cx="316.20" cy="272.00" r="1.85" fill="#e9e9e9"/>
<ellipse cx="310.30" cy="216.20" rx="2.35" ry="2.05" fill="#000"/>
<ellipse cx="292.60" cy="221.78" rx="2.35" ry="2.05" fill="#000"/>
<ellipse cx="286.70" cy="227.36" rx="2.35" ry="2.05" fill="#000"/>
<ellipse cx="257.20" cy="232.94" rx="2.35" ry="2.05" fill="#000"/>
<ellipse cx="269.00" cy="238.52" rx="2.35" ry="2.05" fill="#000"/>
<ellipse cx="263.10" cy="244.10" rx="2.35" ry="2.05" fill="#000"/>
<ellipse cx="274.90" cy="249.68" rx="2.35" ry="2.05" fill="#000"/>
<ellipse cx="280.80" cy="255.26" rx="2.35" ry="2.05" fill="#000"/>
<ellipse cx="298.50" cy="260.84" rx="2.35" ry="2.05" fill="#000"/>
<ellipse cx="316.20" cy="266.42" rx="2.35" ry="2.05" fill="#000"/>
<ellipse cx="304.40" cy="272.00" rx="2.35" ry="2.05" fill="#000"/>
<rect x="215.07" y="214.60" width="4.6" height="3.2" fill="#1e88e5"/>
<text x="246.90" y="218.10" font-family='"Liberation Serif", serif' font-size="5.5" font-weight="bold" text-anchor="end" fill="#000" textLength="24.93" lengthAdjust="spacingAndGlyphs" stroke="#000" stroke-width="0.1" >(A) &lt;=10</text>
<rect x="212.80" y="220.18" width="4.6" height="3.2" fill="#f4511e"/>
<text x="246.90" y="223.68" font-family='"Liberation Serif", serif' font-size="5.5" font-weight="bold" text-anchor="end" fill="#000" textLength="27.20" lengthAdjust="spacingAndGlyphs" stroke="#000" stroke-width="0.1" >(B)10–20</text>
<rect x="212.41" y="225.76" width="4.6" height="3.2" fill="#fb8c00"/>
<text x="246.90" y="229.26" font-family='"Liberation Serif", serif' font-size="5.5" font-weight="bold" text-anchor="end" fill="#000" textLength="27.59" lengthAdjust="spacingAndGlyphs" stroke="#000" stroke-width="0.1" >(C)20–30</text>
<rect x="212.41" y="231.34" width="4.6" height="3.2" fill="#1e9e2e"/>
<text x="246.90" y="234.84" font-family='"Liberation Serif", serif' font-size="5.5" font-weight="bold" text-anchor="end" fill="#000" textLength="27.59" lengthAdjust="spacingAndGlyphs" stroke="#000" stroke-width="0.1" >(D)30–40</text>
<rect x="212.80" y="236.92" width="4.6" height="3.2" fill="#a41fa8"/>
<text x="246.90" y="240.42" font-family='"Liberation Serif", serif' font-size="5.5" font-weight="bold" text-anchor="end" fill="#000" textLength="27.20" lengthAdjust="spacingAndGlyphs" stroke="#000" stroke-width="0.1" >(E)40–50</text>
<rect x="213.20" y="242.50" width="4.6" height="3.2" fill="#1ea0dc"/>
<text x="246.90" y="246.00" font-family='"Liberation Serif", serif' font-size="5.5" font-weight="bold" text-anchor="end" fill="#000" textLength="26.80" lengthAdjust="spacingAndGlyphs" stroke="#000" stroke-width="0.1" >(F)50–60</text>
<rect x="212.02" y="248.08" width="4.6" height="3.2" fill="#ec407a"/>
<text x="246.90" y="251.58" font-family='"Liberation Serif", serif' font-size="5.5" font-weight="bold" text-anchor="end" fill="#000" textLength="27.98" lengthAdjust="spacingAndGlyphs" stroke="#000" stroke-width="0.1" >(G)60–70</text>
<rect x="212.02" y="253.66" width="4.6" height="3.2" fill="#6ab023"/>
<text x="246.90" y="257.16" font-family='"Liberation Serif", serif' font-size="5.5" font-weight="bold" text-anchor="end" fill="#000" textLength="27.98" lengthAdjust="spacingAndGlyphs" stroke="#000" stroke-width="0.1" >(H)70–80</text>
<rect x="214.78" y="259.24" width="4.6" height="3.2" fill="#e02424"/>
<text x="246.90" y="262.74" font-family='"Liberation Serif", serif' font-size="5.5" font-weight="bold" text-anchor="end" fill="#000" textLength="25.22" lengthAdjust="spacingAndGlyphs" stroke="#000" stroke-width="0.1" >(I)80–90</text>
<rect x="210.44" y="264.82" width="4.6" height="3.2" fill="#1565c0"/>
<text x="246.90" y="268.32" font-family='"Liberation Serif", serif' font-size="5.5" font-weight="bold" text-anchor="end" fill="#000" textLength="29.56" lengthAdjust="spacingAndGlyphs" stroke="#000" stroke-width="0.1" >(J)90–100</text>
<rect x="215.16" y="270.40" width="4.6" height="3.2" fill="#ab47bc"/>
<text x="246.90" y="273.90" font-family='"Liberation Serif", serif' font-size="5.5" font-weight="bold" text-anchor="end" fill="#000" textLength="24.84" lengthAdjust="spacingAndGlyphs" stroke="#000" stroke-width="0.1" >(K) &gt;100</text>
<text x="0" y="0" transform="translate(204.60,244.00) rotate(-90)" font-family='"Liberation Serif", serif' font-size="6.0" font-weight="bold" text-anchor="middle" dominant-baseline="central" textLength="38" lengthAdjust="spacingAndGlyphs" fill="#000" stroke="#000" stroke-width="0.22">Mutation Count</text>
<text x="6.50" y="316.60" font-family='"Liberation Sans", sans-serif' font-size="10.4" font-weight="normal" text-anchor="start" fill="#000"  stroke="#000" stroke-width="0.25" >D</text>
<rect x="62.20" y="321" width="0.5" height="55.4" fill="#f2f2f2"/>
<rect x="90.85" y="321" width="0.5" height="55.4" fill="#f2f2f2"/>
<rect x="119.50" y="321" width="0.5" height="55.4" fill="#f2f2f2"/>
<rect x="148.15" y="321" width="0.5" height="55.4" fill="#f2f2f2"/>
<rect x="176.80" y="321" width="0.5" height="55.4" fill="#f2f2f2"/>
<rect x="205.45" y="321" width="0.5" height="55.4" fill="#f2f2f2"/>
<rect x="234.10" y="321" width="0.5" height="55.4" fill="#f2f2f2"/>
<rect x="262.75" y="321" width="0.5" height="55.4" fill="#f2f2f2"/>
<rect x="291.40" y="321" width="0.5" height="55.4" fill="#f2f2f2"/>
<rect x="320.05" y="321" width="0.5" height="55.4" fill="#f2f2f2"/>
<rect x="39.5" y="369.01" width="306" height="0.4" fill="#f6f6f6"/>
<rect x="39.5" y="361.83" width="306" height="0.4" fill="#f6f6f6"/>
<rect x="39.5" y="354.64" width="306" height="0.4" fill="#f6f6f6"/>
<rect x="39.5" y="347.46" width="306" height="0.4" fill="#f6f6f6"/>
<rect x="39.5" y="340.27" width="306" height="0.4" fill="#f6f6f6"/>
<rect x="39.5" y="333.08" width="306" height="0.4" fill="#f6f6f6"/>
<rect x="39.5" y="325.90" width="306" height="0.4" fill="#f6f6f6"/>
<rect x="39.1" y="321" width="0.6" height="55.8" fill="#e2e2e2"/>
<rect x="39.1" y="376.0" width="304" height="0.6" fill="#d4d4d4"/>
<rect x="37.8" y="376.10" width="1.3" height="0.6" fill="#aaa"/>
<text x="36.00" y="378.20" font-family='"Liberation Serif", serif' font-size="4.4" font-weight="bold" text-anchor="end" fill="#000" textLength="2.50" lengthAdjust="spacingAndGlyphs" stroke="#000" stroke-width="0.18" >0</text>
<rect x="37.8" y="368.91" width="1.3" height="0.6" fill="#aaa"/>
<text x="36.00" y="371.01" font-family='"Liberation Serif", serif' font-size="4.4" font-weight="bold" text-anchor="end" fill="#000" textLength="5.00" lengthAdjust="spacingAndGlyphs" stroke="#000" stroke-width="0.18" >10</text>
<rect x="37.8" y="361.73" width="1.3" height="0.6" fill="#aaa"/>
<text x="36.00" y="363.83" font-family='"Liberation Serif", serif' font-size="4.4" font-weight="bold" text-anchor="end" fill="#000" textLength="5.00" lengthAdjust="spacingAndGlyphs" stroke="#000" stroke-width="0.18" >20</text>
<rect x="37.8" y="354.54" width="1.3" height="0.6" fill="#aaa"/>
<text x="36.00" y="356.64" font-family='"Liberation Serif", serif' font-size="4.4" font-weight="bold" text-anchor="end" fill="#000" textLength="5.00" lengthAdjust="spacingAndGlyphs" stroke="#000" stroke-width="0.18" >30</text>
<rect x="37.8" y="347.36" width="1.3" height="0.6" fill="#aaa"/>
<text x="36.00" y="349.46" font-family='"Liberation Serif", serif' font-size="4.4" font-weight="bold" text-anchor="end" fill="#000" textLength="5.00" lengthAdjust="spacingAndGlyphs" stroke="#000" stroke-width="0.18" >40</text>
<rect x="37.8" y="340.17" width="1.3" height="0.6" fill="#aaa"/>
<text x="36.00" y="342.27" font-family='"Liberation Serif", serif' font-size="4.4" font-weight="bold" text-anchor="end" fill="#000" textLength="5.00" lengthAdjust="spacingAndGlyphs" stroke="#000" stroke-width="0.18" >50</text>
<rect x="37.8" y="332.98" width="1.3" height="0.6" fill="#aaa"/>
<text x="36.00" y="335.08" font-family='"Liberation Serif", serif' font-size="4.4" font-weight="bold" text-anchor="end" fill="#000" textLength="5.00" lengthAdjust="spacingAndGlyphs" stroke="#000" stroke-width="0.18" >60</text>
<rect x="37.8" y="325.80" width="1.3" height="0.6" fill="#aaa"/>
<text x="36.00" y="327.90" font-family='"Liberation Serif", serif' font-size="4.4" font-weight="bold" text-anchor="end" fill="#000" textLength="5.00" lengthAdjust="spacingAndGlyphs" stroke="#000" stroke-width="0.18" >70</text>
<text x="0" y="0" transform="translate(15.50,349.60) rotate(-90)" font-family='"Liberation Serif", serif' font-size="6.0" font-weight="bold" text-anchor="middle" dominant-baseline="central" textLength="58" lengthAdjust="spacingAndGlyphs" fill="#000" stroke="#000" stroke-width="0.22">Mutation frequency (%)</text>
<rect x="47.90" y="351.25" width="1.6" height="25.15" fill="#1e88e5"/>
<rect x="49.46" y="338.31" width="1.6" height="38.09" fill="#f4511e"/>
<rect x="51.02" y="339.03" width="1.6" height="37.37" fill="#fb8c00"/>
<rect x="52.58" y="341.91" width="1.6" height="34.49" fill="#1e9e2e"/>
<rect x="54.14" y="344.78" width="1.6" height="31.62" fill="#a41fa8"/>
<rect x="55.70" y="346.22" width="1.6" height="30.18" fill="#1ea0dc"/>
<rect x="57.26" y="337.60" width="1.6" height="38.80" fill="#ec407a"/>
<rect x="58.82" y="337.60" width="1.6" height="38.80" fill="#6ab023"/>
<rect x="60.38" y="336.88" width="1.6" height="39.52" fill="#e02424"/>
<rect x="61.94" y="330.41" width="1.6" height="45.99" fill="#1565c0"/>
<rect x="63.50" y="341.19" width="1.6" height="35.21" fill="#ab47bc"/>
<rect x="65.06" y="354.12" width="1.6" height="22.28" fill="#26c0b0"/>
<rect x="66.62" y="326.82" width="1.6" height="49.58" fill="#b8b428"/>
<rect x="68.18" y="368.50" width="1.6" height="7.90" fill="#7c4dff"/>
<rect x="69.74" y="341.19" width="1.6" height="35.21" fill="#ff7a10"/>
<rect x="71.30" y="359.87" width="1.6" height="16.53" fill="#b01818"/>
<rect x="72.86" y="352.69" width="1.6" height="23.71" fill="#7b1fa2"/>
<rect x="74.42" y="351.25" width="1.6" height="25.15" fill="#12a070"/>
<rect x="78.11" y="375.68" width="1.6" height="0.72" fill="#f4511e"/>
<rect x="79.67" y="375.32" width="1.6" height="1.08" fill="#fb8c00"/>
<rect x="82.79" y="374.96" width="1.6" height="1.44" fill="#a41fa8"/>
<rect x="84.35" y="374.24" width="1.6" height="2.16" fill="#1ea0dc"/>
<rect x="87.47" y="373.88" width="1.6" height="2.52" fill="#6ab023"/>
<rect x="95.27" y="369.93" width="1.6" height="6.47" fill="#b8b428"/>
<rect x="98.39" y="341.19" width="1.6" height="35.21" fill="#ff7a10"/>
<rect x="103.07" y="375.32" width="1.6" height="1.08" fill="#12a070"/>
<rect x="106.76" y="375.32" width="1.6" height="1.08" fill="#f4511e"/>
<rect x="120.80" y="374.60" width="1.6" height="1.80" fill="#ab47bc"/>
<rect x="123.92" y="373.02" width="1.6" height="3.38" fill="#b8b428"/>
<rect x="127.04" y="341.19" width="1.6" height="35.21" fill="#ff7a10"/>
<rect x="133.85" y="365.62" width="1.6" height="10.78" fill="#1e88e5"/>
<rect x="135.41" y="348.02" width="1.6" height="28.38" fill="#f4511e"/>
<rect x="136.97" y="350.03" width="1.6" height="26.37" fill="#fb8c00"/>
<rect x="138.53" y="350.03" width="1.6" height="26.37" fill="#1e9e2e"/>
<rect x="140.09" y="348.02" width="1.6" height="28.38" fill="#a41fa8"/>
<rect x="141.65" y="342.91" width="1.6" height="33.49" fill="#1ea0dc"/>
<rect x="143.21" y="354.84" width="1.6" height="21.56" fill="#ec407a"/>
<rect x="144.77" y="347.66" width="1.6" height="28.74" fill="#6ab023"/>
<rect x="146.33" y="360.73" width="1.6" height="15.67" fill="#e02424"/>
<rect x="147.89" y="352.69" width="1.6" height="23.71" fill="#1565c0"/>
<rect x="149.45" y="355.20" width="1.6" height="21.20" fill="#ab47bc"/>
<rect x="151.01" y="353.91" width="1.6" height="22.49" fill="#26c0b0"/>
<rect x="152.57" y="354.41" width="1.6" height="21.99" fill="#b8b428"/>
<rect x="154.13" y="352.69" width="1.6" height="23.71" fill="#7c4dff"/>
<rect x="155.69" y="364.69" width="1.6" height="11.71" fill="#ff7a10"/>
<rect x="157.25" y="343.70" width="1.6" height="32.70" fill="#b01818"/>
<rect x="158.81" y="357.00" width="1.6" height="19.40" fill="#7b1fa2"/>
<rect x="160.37" y="355.20" width="1.6" height="21.20" fill="#12a070"/>
<rect x="162.50" y="373.02" width="1.6" height="3.38" fill="#1e88e5"/>
<rect x="164.06" y="359.15" width="1.6" height="17.25" fill="#f4511e"/>
<rect x="165.62" y="369.21" width="1.6" height="7.19" fill="#fb8c00"/>
<rect x="167.18" y="366.34" width="1.6" height="10.06" fill="#1e9e2e"/>
<rect x="168.74" y="359.87" width="1.6" height="16.53" fill="#a41fa8"/>
<rect x="170.30" y="364.90" width="1.6" height="11.50" fill="#1ea0dc"/>
<rect x="171.86" y="369.21" width="1.6" height="7.19" fill="#ec407a"/>
<rect x="173.42" y="364.90" width="1.6" height="11.50" fill="#6ab023"/>
<rect x="174.98" y="362.03" width="1.6" height="14.37" fill="#e02424"/>
<rect x="176.54" y="367.78" width="1.6" height="8.62" fill="#1565c0"/>
<rect x="178.10" y="364.90" width="1.6" height="11.50" fill="#ab47bc"/>
<rect x="179.66" y="356.28" width="1.6" height="20.12" fill="#26c0b0"/>
<rect x="181.22" y="365.98" width="1.6" height="10.42" fill="#b8b428"/>
<rect x="182.78" y="370.65" width="1.6" height="5.75" fill="#7c4dff"/>
<rect x="184.34" y="358.72" width="1.6" height="17.68" fill="#ff7a10"/>
<rect x="185.90" y="343.70" width="1.6" height="32.70" fill="#b01818"/>
<rect x="187.46" y="368.50" width="1.6" height="7.90" fill="#7b1fa2"/>
<rect x="189.02" y="362.03" width="1.6" height="14.37" fill="#12a070"/>
<rect x="195.83" y="374.96" width="1.6" height="1.44" fill="#1e9e2e"/>
<rect x="203.63" y="375.32" width="1.6" height="1.08" fill="#e02424"/>
<rect x="211.43" y="352.69" width="1.6" height="23.71" fill="#7c4dff"/>
<rect x="214.55" y="365.62" width="1.6" height="10.78" fill="#b01818"/>
<rect x="217.67" y="375.32" width="1.6" height="1.08" fill="#12a070"/>
<rect x="226.04" y="374.96" width="1.6" height="1.44" fill="#a41fa8"/>
<rect x="232.28" y="374.60" width="1.6" height="1.80" fill="#e02424"/>
<rect x="240.08" y="352.69" width="1.6" height="23.71" fill="#7c4dff"/>
<rect x="246.32" y="375.54" width="1.6" height="0.86" fill="#12a070"/>
<rect x="256.25" y="374.96" width="1.6" height="1.44" fill="#1ea0dc"/>
<rect x="268.73" y="352.69" width="1.6" height="23.71" fill="#7c4dff"/>
<rect x="280.22" y="375.68" width="1.6" height="0.72" fill="#fb8c00"/>
<rect x="288.02" y="375.68" width="1.6" height="0.72" fill="#6ab023"/>
<rect x="295.82" y="372.81" width="1.6" height="3.59" fill="#b8b428"/>
<rect x="297.38" y="352.69" width="1.6" height="23.71" fill="#7c4dff"/>
<rect x="310.43" y="375.68" width="1.6" height="0.72" fill="#1e9e2e"/>
<rect x="326.03" y="352.69" width="1.6" height="23.71" fill="#7c4dff"/>
<rect x="332.27" y="374.24" width="1.6" height="2.16" fill="#12a070"/>
<rect x="108.32" y="375.8" width="12.48" height="0.7" fill="#8a8a8a"/>
<text x="0" y="0" transform="translate(58.60,380.0) rotate(40)" font-family='"Liberation Serif", serif' font-size="4.7" font-weight="bold" fill="#111" stroke="#111" stroke-width="0.12">VHL &#8226;</text>
<text x="0" y="0" transform="translate(87.50,380.0) rotate(40)" font-family='"Liberation Serif", serif' font-size="4.7" font-weight="bold" fill="#111" stroke="#111" stroke-width="0.12">COL14A1</text>
<text x="0" y="0" transform="translate(116.40,380.0) rotate(40)" font-family='"Liberation Serif", serif' font-size="4.7" font-weight="bold" fill="#111" stroke="#111" stroke-width="0.12">SYNRG</text>
<text x="0" y="0" transform="translate(145.30,380.0) rotate(40)" font-family='"Liberation Serif", serif' font-size="4.7" font-weight="bold" fill="#111" stroke="#111" stroke-width="0.12">PBRM1 &#8226;</text>
<text x="0" y="0" transform="translate(174.20,380.0) rotate(40)" font-family='"Liberation Serif", serif' font-size="4.7" font-weight="bold" fill="#111" stroke="#111" stroke-width="0.12">TTN</text>
<text x="0" y="0" transform="translate(203.10,380.0) rotate(40)" font-family='"Liberation Serif", serif' font-size="4.7" font-weight="bold" fill="#111" stroke="#111" stroke-width="0.12">AZML1</text>
<text x="0" y="0" transform="translate(232.00,380.0) rotate(40)" font-family='"Liberation Serif", serif' font-size="4.7" font-weight="bold" fill="#111" stroke="#111" stroke-width="0.12">ADNP2</text>
<text x="0" y="0" transform="translate(260.90,380.0) rotate(40)" font-family='"Liberation Serif", serif' font-size="4.7" font-weight="bold" fill="#111" stroke="#111" stroke-width="0.12">ABCYL1</text>
<text x="0" y="0" transform="translate(289.80,380.0) rotate(40)" font-family='"Liberation Serif", serif' font-size="4.7" font-weight="bold" fill="#111" stroke="#111" stroke-width="0.12">ALG10B</text>
<text x="0" y="0" transform="translate(318.70,380.0) rotate(40)" font-family='"Liberation Serif", serif' font-size="4.7" font-weight="bold" fill="#111" stroke="#111" stroke-width="0.12">ANGPT1</text>
<rect x="30.80" y="400.30" width="2.6" height="2.1" fill="#1e88e5"/>
<text x="37.30" y="402.70" font-family='"Liberation Serif", serif' font-size="4.1" font-weight="normal" text-anchor="start" fill="#555" textLength="7.11" lengthAdjust="spacingAndGlyphs"  >(A)</text>
<text x="45.70" y="402.70" font-family='"Liberation Serif", serif' font-size="4.1" font-weight="bold" text-anchor="start" fill="#000" textLength="14.81" lengthAdjust="spacingAndGlyphs" stroke="#000" stroke-width="0.15" >&lt;=0.03</text>
<rect x="75.70" y="400.30" width="2.6" height="2.1" fill="#f4511e"/>
<text x="82.20" y="402.70" font-family='"Liberation Serif", serif' font-size="4.1" font-weight="normal" text-anchor="start" fill="#555" textLength="6.83" lengthAdjust="spacingAndGlyphs"  >(B)</text>
<text x="90.31" y="402.70" font-family='"Liberation Serif", serif' font-size="4.1" font-weight="bold" text-anchor="start" fill="#000" textLength="20.50" lengthAdjust="spacingAndGlyphs" stroke="#000" stroke-width="0.15" >0.03–0.05</text>
<rect x="121.60" y="400.30" width="2.6" height="2.1" fill="#fb8c00"/>
<text x="128.10" y="402.70" font-family='"Liberation Serif", serif' font-size="4.1" font-weight="normal" text-anchor="start" fill="#555" textLength="6.83" lengthAdjust="spacingAndGlyphs"  >(C)</text>
<text x="136.21" y="402.70" font-family='"Liberation Serif", serif' font-size="4.1" font-weight="bold" text-anchor="start" fill="#000" textLength="20.50" lengthAdjust="spacingAndGlyphs" stroke="#000" stroke-width="0.15" >0.05–0.07</text>
<rect x="165.00" y="400.30" width="2.6" height="2.1" fill="#1e9e2e"/>
<text x="171.50" y="402.70" font-family='"Liberation Serif", serif' font-size="4.1" font-weight="normal" text-anchor="start" fill="#555" textLength="7.11" lengthAdjust="spacingAndGlyphs"  >(D)</text>
<text x="179.90" y="402.70" font-family='"Liberation Serif", serif' font-size="4.1" font-weight="bold" text-anchor="start" fill="#000" textLength="20.50" lengthAdjust="spacingAndGlyphs" stroke="#000" stroke-width="0.15" >0.07–0.10</text>
<rect x="210.80" y="400.30" width="2.6" height="2.1" fill="#a41fa8"/>
<text x="217.30" y="402.70" font-family='"Liberation Serif", serif' font-size="4.1" font-weight="normal" text-anchor="start" fill="#555" textLength="6.54" lengthAdjust="spacingAndGlyphs"  >(E)</text>
<text x="225.13" y="402.70" font-family='"Liberation Serif", serif' font-size="4.1" font-weight="bold" text-anchor="start" fill="#000" textLength="20.50" lengthAdjust="spacingAndGlyphs" stroke="#000" stroke-width="0.15" >0.10–0.13</text>
<rect x="256.50" y="400.30" width="2.6" height="2.1" fill="#1ea0dc"/>
<text x="263.00" y="402.70" font-family='"Liberation Serif", serif' font-size="4.1" font-weight="normal" text-anchor="start" fill="#555" textLength="6.26" lengthAdjust="spacingAndGlyphs"  >(F)</text>
<text x="270.54" y="402.70" font-family='"Liberation Serif", serif' font-size="4.1" font-weight="bold" text-anchor="start" fill="#000" textLength="20.50" lengthAdjust="spacingAndGlyphs" stroke="#000" stroke-width="0.15" >0.13–0.15</text>
<rect x="301.20" y="400.30" width="2.6" height="2.1" fill="#ec407a"/>
<text x="307.70" y="402.70" font-family='"Liberation Serif", serif' font-size="4.1" font-weight="normal" text-anchor="start" fill="#555" textLength="7.11" lengthAdjust="spacingAndGlyphs"  >(G)</text>
<text x="316.10" y="402.70" font-family='"Liberation Serif", serif' font-size="4.1" font-weight="bold" text-anchor="start" fill="#000" textLength="20.50" lengthAdjust="spacingAndGlyphs" stroke="#000" stroke-width="0.15" >0.15–0.17</text>
<rect x="30.80" y="406.40" width="2.6" height="2.1" fill="#6ab023"/>
<text x="37.30" y="408.80" font-family='"Liberation Serif", serif' font-size="4.1" font-weight="normal" text-anchor="start" fill="#555" textLength="7.11" lengthAdjust="spacingAndGlyphs"  >(H)</text>
<text x="45.70" y="408.80" font-family='"Liberation Serif", serif' font-size="4.1" font-weight="bold" text-anchor="start" fill="#000" textLength="20.50" lengthAdjust="spacingAndGlyphs" stroke="#000" stroke-width="0.15" >0.17–0.20</text>
<rect x="75.70" y="406.40" width="2.6" height="2.1" fill="#e02424"/>
<text x="82.20" y="408.80" font-family='"Liberation Serif", serif' font-size="4.1" font-weight="normal" text-anchor="start" fill="#555" textLength="5.12" lengthAdjust="spacingAndGlyphs"  >(I)</text>
<text x="88.60" y="408.80" font-family='"Liberation Serif", serif' font-size="4.1" font-weight="bold" text-anchor="start" fill="#000" textLength="20.50" lengthAdjust="spacingAndGlyphs" stroke="#000" stroke-width="0.15" >0.20–0.23</text>
<rect x="121.60" y="406.40" width="2.6" height="2.1" fill="#1565c0"/>
<text x="128.10" y="408.80" font-family='"Liberation Serif", serif' font-size="4.1" font-weight="normal" text-anchor="start" fill="#555" textLength="5.41" lengthAdjust="spacingAndGlyphs"  >(J)</text>
<text x="134.79" y="408.80" font-family='"Liberation Serif", serif' font-size="4.1" font-weight="bold" text-anchor="start" fill="#000" textLength="20.50" lengthAdjust="spacingAndGlyphs" stroke="#000" stroke-width="0.15" >0.23–0.25</text>
<rect x="165.00" y="406.40" width="2.6" height="2.1" fill="#ab47bc"/>
<text x="171.50" y="408.80" font-family='"Liberation Serif", serif' font-size="4.1" font-weight="normal" text-anchor="start" fill="#555" textLength="7.11" lengthAdjust="spacingAndGlyphs"  >(K)</text>
<text x="179.90" y="408.80" font-family='"Liberation Serif", serif' font-size="4.1" font-weight="bold" text-anchor="start" fill="#000" textLength="20.50" lengthAdjust="spacingAndGlyphs" stroke="#000" stroke-width="0.15" >0.25–0.28</text>
<rect x="210.80" y="406.40" width="2.6" height="2.1" fill="#26c0b0"/>
<text x="217.30" y="408.80" font-family='"Liberation Serif", serif' font-size="4.1" font-weight="normal" text-anchor="start" fill="#555" textLength="6.54" lengthAdjust="spacingAndGlyphs"  >(L)</text>
<text x="225.13" y="408.80" font-family='"Liberation Serif", serif' font-size="4.1" font-weight="bold" text-anchor="start" fill="#000" textLength="20.50" lengthAdjust="spacingAndGlyphs" stroke="#000" stroke-width="0.15" >0.28–0.30</text>
<rect x="256.50" y="406.40" width="2.6" height="2.1" fill="#b8b428"/>
<text x="263.00" y="408.80" font-family='"Liberation Serif", serif' font-size="4.1" font-weight="normal" text-anchor="start" fill="#555" textLength="7.97" lengthAdjust="spacingAndGlyphs"  >(M)</text>
<text x="272.25" y="408.80" font-family='"Liberation Serif", serif' font-size="4.1" font-weight="bold" text-anchor="start" fill="#000" textLength="20.50" lengthAdjust="spacingAndGlyphs" stroke="#000" stroke-width="0.15" >0.30–0.33</text>
<rect x="301.20" y="406.40" width="2.6" height="2.1" fill="#7c4dff"/>
<text x="307.70" y="408.80" font-family='"Liberation Serif", serif' font-size="4.1" font-weight="normal" text-anchor="start" fill="#555" textLength="7.11" lengthAdjust="spacingAndGlyphs"  >(N)</text>
<text x="316.10" y="408.80" font-family='"Liberation Serif", serif' font-size="4.1" font-weight="bold" text-anchor="start" fill="#000" textLength="20.50" lengthAdjust="spacingAndGlyphs" stroke="#000" stroke-width="0.15" >0.33–0.35</text>
<rect x="30.80" y="412.40" width="2.6" height="2.1" fill="#ff7a10"/>
<text x="37.30" y="414.80" font-family='"Liberation Serif", serif' font-size="4.1" font-weight="normal" text-anchor="start" fill="#555" textLength="7.11" lengthAdjust="spacingAndGlyphs"  >(O)</text>
<text x="45.70" y="414.80" font-family='"Liberation Serif", serif' font-size="4.1" font-weight="bold" text-anchor="start" fill="#000" textLength="20.50" lengthAdjust="spacingAndGlyphs" stroke="#000" stroke-width="0.15" >0.35–0.38</text>
<rect x="75.70" y="412.40" width="2.6" height="2.1" fill="#b01818"/>
<text x="82.20" y="414.80" font-family='"Liberation Serif", serif' font-size="4.1" font-weight="normal" text-anchor="start" fill="#555" textLength="6.26" lengthAdjust="spacingAndGlyphs"  >(P)</text>
<text x="89.74" y="414.80" font-family='"Liberation Serif", serif' font-size="4.1" font-weight="bold" text-anchor="start" fill="#000" textLength="20.50" lengthAdjust="spacingAndGlyphs" stroke="#000" stroke-width="0.15" >0.38–0.40</text>
<rect x="121.60" y="412.40" width="2.6" height="2.1" fill="#7b1fa2"/>
<text x="128.10" y="414.80" font-family='"Liberation Serif", serif' font-size="4.1" font-weight="normal" text-anchor="start" fill="#555" textLength="7.11" lengthAdjust="spacingAndGlyphs"  >(Q)</text>
<text x="136.50" y="414.80" font-family='"Liberation Serif", serif' font-size="4.1" font-weight="bold" text-anchor="start" fill="#000" textLength="20.50" lengthAdjust="spacingAndGlyphs" stroke="#000" stroke-width="0.15" >0.40–0.42</text>
<rect x="165.00" y="412.40" width="2.6" height="2.1" fill="#12a070"/>
<text x="171.50" y="414.80" font-family='"Liberation Serif", serif' font-size="4.1" font-weight="normal" text-anchor="start" fill="#555" textLength="6.83" lengthAdjust="spacingAndGlyphs"  >(R)</text>
<text x="179.61" y="414.80" font-family='"Liberation Serif", serif' font-size="4.1" font-weight="bold" text-anchor="start" fill="#000" textLength="11.89" lengthAdjust="spacingAndGlyphs" stroke="#000" stroke-width="0.15" >&gt;0.42</text>
<text x="6.60" y="438.30" font-family='"Liberation Sans", sans-serif' font-size="10.4" font-weight="normal" text-anchor="start" fill="#000"  stroke="#000" stroke-width="0.25" >E</text>
<rect x="65.20" y="427" width="0.5" height="80.5" fill="#f2f2f2"/>
<rect x="93.55" y="427" width="0.5" height="80.5" fill="#f2f2f2"/>
<rect x="121.90" y="427" width="0.5" height="80.5" fill="#f2f2f2"/>
<rect x="150.25" y="427" width="0.5" height="80.5" fill="#f2f2f2"/>
<rect x="178.60" y="427" width="0.5" height="80.5" fill="#f2f2f2"/>
<rect x="206.95" y="427" width="0.5" height="80.5" fill="#f2f2f2"/>
<rect x="235.30" y="427" width="0.5" height="80.5" fill="#f2f2f2"/>
<rect x="263.65" y="427" width="0.5" height="80.5" fill="#f2f2f2"/>
<rect x="292.00" y="427" width="0.5" height="80.5" fill="#f2f2f2"/>
<rect x="320.35" y="427" width="0.5" height="80.5" fill="#f2f2f2"/>
<rect x="42" y="496.95" width="300" height="0.4" fill="#f6f6f6"/>
<rect x="42" y="486.60" width="300" height="0.4" fill="#f6f6f6"/>
<rect x="42" y="476.25" width="300" height="0.4" fill="#f6f6f6"/>
<rect x="42" y="465.90" width="300" height="0.4" fill="#f6f6f6"/>
<rect x="42" y="455.55" width="300" height="0.4" fill="#f6f6f6"/>
<rect x="42" y="445.20" width="300" height="0.4" fill="#f6f6f6"/>
<rect x="42" y="434.85" width="300" height="0.4" fill="#f6f6f6"/>
<rect x="41.4" y="426.7" width="0.8" height="80.8" fill="#e2e2e2"/>
<rect x="41.4" y="507.2" width="299" height="0.6" fill="#e0e0e0"/>
<rect x="40.2" y="507.20" width="1.4" height="0.6" fill="#aaa"/>
<text x="39.00" y="509.00" font-family='"Liberation Serif", serif' font-size="4.9" font-weight="bold" text-anchor="end" fill="#000" textLength="2.85" lengthAdjust="spacingAndGlyphs" stroke="#000" stroke-width="0.18" >0</text>
<rect x="40.2" y="496.85" width="1.4" height="0.6" fill="#aaa"/>
<text x="39.00" y="498.65" font-family='"Liberation Serif", serif' font-size="4.9" font-weight="bold" text-anchor="end" fill="#000" textLength="5.70" lengthAdjust="spacingAndGlyphs" stroke="#000" stroke-width="0.18" >10</text>
<rect x="40.2" y="486.50" width="1.4" height="0.6" fill="#aaa"/>
<text x="39.00" y="488.30" font-family='"Liberation Serif", serif' font-size="4.9" font-weight="bold" text-anchor="end" fill="#000" textLength="5.70" lengthAdjust="spacingAndGlyphs" stroke="#000" stroke-width="0.18" >20</text>
<rect x="40.2" y="476.15" width="1.4" height="0.6" fill="#aaa"/>
<text x="39.00" y="477.95" font-family='"Liberation Serif", serif' font-size="4.9" font-weight="bold" text-anchor="end" fill="#000" textLength="5.70" lengthAdjust="spacingAndGlyphs" stroke="#000" stroke-width="0.18" >30</text>
<rect x="40.2" y="465.80" width="1.4" height="0.6" fill="#aaa"/>
<text x="39.00" y="467.60" font-family='"Liberation Serif", serif' font-size="4.9" font-weight="bold" text-anchor="end" fill="#000" textLength="5.70" lengthAdjust="spacingAndGlyphs" stroke="#000" stroke-width="0.18" >40</text>
<rect x="40.2" y="455.45" width="1.4" height="0.6" fill="#aaa"/>
<text x="39.00" y="457.25" font-family='"Liberation Serif", serif' font-size="4.9" font-weight="bold" text-anchor="end" fill="#000" textLength="5.70" lengthAdjust="spacingAndGlyphs" stroke="#000" stroke-width="0.18" >50</text>
<rect x="40.2" y="445.10" width="1.4" height="0.6" fill="#aaa"/>
<text x="39.00" y="446.90" font-family='"Liberation Serif", serif' font-size="4.9" font-weight="bold" text-anchor="end" fill="#000" textLength="5.70" lengthAdjust="spacingAndGlyphs" stroke="#000" stroke-width="0.18" >60</text>
<rect x="40.2" y="434.75" width="1.4" height="0.6" fill="#aaa"/>
<text x="39.00" y="436.55" font-family='"Liberation Serif", serif' font-size="4.9" font-weight="bold" text-anchor="end" fill="#000" textLength="5.70" lengthAdjust="spacingAndGlyphs" stroke="#000" stroke-width="0.18" >70</text>
<rect x="52.00" y="431.01" width="2.45" height="76.49" fill="#1e88e5"/>
<rect x="54.40" y="483.18" width="2.45" height="24.32" fill="#f4511e"/>
<rect x="56.80" y="478.83" width="2.45" height="28.67" fill="#fb8c00"/>
<rect x="59.20" y="456.79" width="2.45" height="50.71" fill="#1e9e2e"/>
<rect x="61.60" y="453.06" width="2.45" height="54.44" fill="#a41fa8"/>
<rect x="64.00" y="456.06" width="2.45" height="51.44" fill="#1ea0dc"/>
<rect x="66.40" y="449.75" width="2.45" height="57.75" fill="#ec407a"/>
<rect x="68.80" y="448.09" width="2.45" height="59.41" fill="#1e9e2e"/>
<rect x="71.20" y="439.19" width="2.45" height="68.31" fill="#e02424"/>
<rect x="73.60" y="450.99" width="2.45" height="56.51" fill="#1565c0"/>
<rect x="76.00" y="465.06" width="2.45" height="42.44" fill="#ab47bc"/>
<rect x="80.35" y="501.81" width="2.45" height="5.69" fill="#1e88e5"/>
<rect x="82.75" y="494.77" width="2.45" height="12.73" fill="#f4511e"/>
<rect x="85.15" y="486.80" width="2.45" height="20.70" fill="#fb8c00"/>
<rect x="87.55" y="474.69" width="2.45" height="32.81" fill="#1e9e2e"/>
<rect x="89.95" y="467.13" width="2.45" height="40.37" fill="#a41fa8"/>
<rect x="92.35" y="467.13" width="2.45" height="40.37" fill="#1ea0dc"/>
<rect x="94.75" y="461.65" width="2.45" height="45.85" fill="#ec407a"/>
<rect x="97.15" y="456.06" width="2.45" height="51.44" fill="#1e9e2e"/>
<rect x="99.55" y="472.00" width="2.45" height="35.50" fill="#e02424"/>
<rect x="101.95" y="448.09" width="2.45" height="59.41" fill="#1565c0"/>
<rect x="104.35" y="460.72" width="2.45" height="46.78" fill="#ab47bc"/>
<rect x="111.10" y="506.15" width="2.45" height="1.35" fill="#f4511e"/>
<rect x="113.50" y="501.60" width="2.45" height="5.90" fill="#fb8c00"/>
<rect x="115.90" y="503.77" width="2.45" height="3.73" fill="#1e9e2e"/>
<rect x="118.30" y="498.19" width="2.45" height="9.31" fill="#a41fa8"/>
<rect x="120.70" y="499.22" width="2.45" height="8.28" fill="#1ea0dc"/>
<rect x="123.10" y="497.15" width="2.45" height="10.35" fill="#ec407a"/>
<rect x="125.50" y="493.22" width="2.45" height="14.28" fill="#1e9e2e"/>
<rect x="127.90" y="491.77" width="2.45" height="15.73" fill="#e02424"/>
<rect x="130.30" y="490.84" width="2.45" height="16.66" fill="#1565c0"/>
<rect x="132.70" y="452.02" width="2.45" height="55.48" fill="#ab47bc"/>
<rect x="144.25" y="505.43" width="2.45" height="2.07" fill="#1e9e2e"/>
<rect x="146.65" y="505.95" width="2.45" height="1.55" fill="#a41fa8"/>
<rect x="161.05" y="460.72" width="2.45" height="46.78" fill="#ab47bc"/>
<rect x="170.20" y="505.43" width="2.45" height="2.07" fill="#fb8c00"/>
<rect x="172.60" y="506.98" width="2.45" height="0.52" fill="#1e9e2e"/>
<rect x="175.00" y="505.95" width="2.45" height="1.55" fill="#a41fa8"/>
<rect x="177.40" y="503.88" width="2.45" height="3.62" fill="#1ea0dc"/>
<rect x="179.80" y="503.88" width="2.45" height="3.62" fill="#ec407a"/>
<rect x="182.20" y="505.95" width="2.45" height="1.55" fill="#1e9e2e"/>
<rect x="184.60" y="504.39" width="2.45" height="3.11" fill="#e02424"/>
<rect x="189.40" y="460.72" width="2.45" height="46.78" fill="#ab47bc"/>
<rect x="198.55" y="505.95" width="2.45" height="1.55" fill="#fb8c00"/>
<rect x="200.95" y="504.39" width="2.45" height="3.11" fill="#1e9e2e"/>
<rect x="203.35" y="504.39" width="2.45" height="3.11" fill="#a41fa8"/>
<rect x="205.75" y="504.39" width="2.45" height="3.11" fill="#1ea0dc"/>
<rect x="208.15" y="502.32" width="2.45" height="5.18" fill="#ec407a"/>
<rect x="210.55" y="504.91" width="2.45" height="2.59" fill="#1e9e2e"/>
<rect x="212.95" y="504.91" width="2.45" height="2.59" fill="#e02424"/>
<rect x="215.35" y="501.29" width="2.45" height="6.21" fill="#1565c0"/>
<rect x="217.75" y="463.00" width="2.45" height="44.50" fill="#ab47bc"/>
<rect x="229.30" y="506.46" width="2.45" height="1.04" fill="#1e9e2e"/>
<rect x="231.70" y="505.43" width="2.45" height="2.07" fill="#a41fa8"/>
<rect x="234.10" y="500.25" width="2.45" height="7.25" fill="#1ea0dc"/>
<rect x="236.50" y="500.77" width="2.45" height="6.73" fill="#ec407a"/>
<rect x="238.90" y="504.81" width="2.45" height="2.69" fill="#1e9e2e"/>
<rect x="246.10" y="463.00" width="2.45" height="44.50" fill="#ab47bc"/>
<rect x="274.45" y="463.00" width="2.45" height="44.50" fill="#ab47bc"/>
<rect x="302.80" y="463.00" width="2.45" height="44.50" fill="#ab47bc"/>
<rect x="311.95" y="505.95" width="2.45" height="1.55" fill="#fb8c00"/>
<rect x="314.35" y="506.98" width="2.45" height="0.52" fill="#1e9e2e"/>
<rect x="316.75" y="506.98" width="2.45" height="0.52" fill="#a41fa8"/>
<rect x="319.15" y="506.46" width="2.45" height="1.04" fill="#1ea0dc"/>
<rect x="321.55" y="506.46" width="2.45" height="1.04" fill="#ec407a"/>
<rect x="323.95" y="506.98" width="2.45" height="0.52" fill="#1e9e2e"/>
<rect x="326.35" y="504.91" width="2.45" height="2.59" fill="#e02424"/>
<rect x="331.15" y="465.06" width="2.45" height="42.44" fill="#ab47bc"/>
<rect x="149.05" y="506.7" width="9.60" height="0.9" fill="#9a9a9a"/>
<rect x="257.65" y="506.7" width="12.00" height="0.9" fill="#9a9a9a"/>
<rect x="286.00" y="506.7" width="12.00" height="0.9" fill="#9a9a9a"/>
<rect x="314.35" y="506.7" width="4.80" height="0.9" fill="#9a9a9a"/>
<text x="0" y="0" transform="translate(61.60,512.6) rotate(40)" font-family='"Liberation Serif", serif' font-size="4.6" font-weight="bold" fill="#111" stroke="#111" stroke-width="0.12">VHL &#8226;</text>
<text x="0" y="0" transform="translate(89.95,512.6) rotate(40)" font-family='"Liberation Serif", serif' font-size="4.6" font-weight="bold" fill="#111" stroke="#111" stroke-width="0.12">PBRM1 &#8226;</text>
<text x="0" y="0" transform="translate(118.30,512.6) rotate(40)" font-family='"Liberation Serif", serif' font-size="4.6" font-weight="bold" fill="#111" stroke="#111" stroke-width="0.12">MUC16</text>
<text x="0" y="0" transform="translate(146.65,512.6) rotate(40)" font-family='"Liberation Serif", serif' font-size="4.6" font-weight="bold" fill="#111" stroke="#111" stroke-width="0.12">ARAP3</text>
<text x="0" y="0" transform="translate(175.00,512.6) rotate(40)" font-family='"Liberation Serif", serif' font-size="4.6" font-weight="bold" fill="#111" stroke="#111" stroke-width="0.12">THBS2</text>
<text x="0" y="0" transform="translate(203.35,512.6) rotate(40)" font-family='"Liberation Serif", serif' font-size="4.6" font-weight="bold" fill="#111" stroke="#111" stroke-width="0.12">INSM1</text>
<text x="0" y="0" transform="translate(231.70,512.6) rotate(40)" font-family='"Liberation Serif", serif' font-size="4.6" font-weight="bold" fill="#111" stroke="#111" stroke-width="0.12">PRN2</text>
<text x="0" y="0" transform="translate(260.05,512.6) rotate(40)" font-family='"Liberation Serif", serif' font-size="4.6" font-weight="bold" fill="#111" stroke="#111" stroke-width="0.12">HERP1</text>
<text x="0" y="0" transform="translate(288.40,512.6) rotate(40)" font-family='"Liberation Serif", serif' font-size="4.6" font-weight="bold" fill="#111" stroke="#111" stroke-width="0.12">SYS3</text>
<text x="0" y="0" transform="translate(316.75,512.6) rotate(40)" font-family='"Liberation Serif", serif' font-size="4.6" font-weight="bold" fill="#111" stroke="#111" stroke-width="0.12">ABCA4</text>
<rect x="43.00" y="533.10" width="3.5" height="3.1" fill="#1e88e5"/>
<text x="52.00" y="536.20" font-family='"Liberation Serif", serif' font-size="4.3" font-weight="normal" text-anchor="start" fill="#555" textLength="7.40" lengthAdjust="spacingAndGlyphs"  >(A)</text>
<text x="60.73" y="536.20" font-family='"Liberation Serif", serif' font-size="4.3" font-weight="bold" text-anchor="start" fill="#000" textLength="11.41" lengthAdjust="spacingAndGlyphs" stroke="#000" stroke-width="0.15" >&lt;=10</text>
<rect x="90.70" y="533.10" width="3.5" height="3.1" fill="#1e9e2e"/>
<text x="99.70" y="536.20" font-family='"Liberation Serif", serif' font-size="4.3" font-weight="normal" text-anchor="start" fill="#555" textLength="7.40" lengthAdjust="spacingAndGlyphs"  >(D)</text>
<text x="108.43" y="536.20" font-family='"Liberation Serif", serif' font-size="4.3" font-weight="bold" text-anchor="start" fill="#000" textLength="13.33" lengthAdjust="spacingAndGlyphs" stroke="#000" stroke-width="0.15" >30–40</text>
<rect x="145.70" y="533.10" width="3.5" height="3.1" fill="#ec407a"/>
<text x="154.70" y="536.20" font-family='"Liberation Serif", serif' font-size="4.3" font-weight="normal" text-anchor="start" fill="#555" textLength="7.40" lengthAdjust="spacingAndGlyphs"  >(G)</text>
<text x="163.43" y="536.20" font-family='"Liberation Serif", serif' font-size="4.3" font-weight="bold" text-anchor="start" fill="#000" textLength="13.33" lengthAdjust="spacingAndGlyphs" stroke="#000" stroke-width="0.15" >60–70</text>
<rect x="193.70" y="533.10" width="3.5" height="3.1" fill="#1565c0"/>
<text x="202.70" y="536.20" font-family='"Liberation Serif", serif' font-size="4.3" font-weight="normal" text-anchor="start" fill="#555" textLength="5.63" lengthAdjust="spacingAndGlyphs"  >(J)</text>
<text x="209.66" y="536.20" font-family='"Liberation Serif", serif' font-size="4.3" font-weight="bold" text-anchor="start" fill="#000" textLength="16.00" lengthAdjust="spacingAndGlyphs" stroke="#000" stroke-width="0.15" >90–100</text>
<rect x="238.20" y="533.10" width="3.5" height="3.1" fill="#f4511e"/>
<text x="247.20" y="536.20" font-family='"Liberation Serif", serif' font-size="4.3" font-weight="normal" text-anchor="start" fill="#555" textLength="7.11" lengthAdjust="spacingAndGlyphs"  >(B)</text>
<text x="255.64" y="536.20" font-family='"Liberation Serif", serif' font-size="4.3" font-weight="bold" text-anchor="start" fill="#000" textLength="13.33" lengthAdjust="spacingAndGlyphs" stroke="#000" stroke-width="0.15" >10–20</text>
<rect x="288.50" y="533.10" width="3.5" height="3.1" fill="#a41fa8"/>
<text x="297.50" y="536.20" font-family='"Liberation Serif", serif' font-size="4.3" font-weight="normal" text-anchor="start" fill="#555" textLength="6.81" lengthAdjust="spacingAndGlyphs"  >(E)</text>
<text x="305.64" y="536.20" font-family='"Liberation Serif", serif' font-size="4.3" font-weight="bold" text-anchor="start" fill="#000" textLength="13.33" lengthAdjust="spacingAndGlyphs" stroke="#000" stroke-width="0.15" >40–50</text>
<rect x="43.00" y="541.20" width="3.5" height="3.1" fill="#1e9e2e"/>
<text x="52.00" y="544.30" font-family='"Liberation Serif", serif' font-size="4.3" font-weight="normal" text-anchor="start" fill="#555" textLength="7.40" lengthAdjust="spacingAndGlyphs"  >(H)</text>
<text x="60.73" y="544.30" font-family='"Liberation Serif", serif' font-size="4.3" font-weight="bold" text-anchor="start" fill="#000" textLength="13.33" lengthAdjust="spacingAndGlyphs" stroke="#000" stroke-width="0.15" >70–80</text>
<rect x="90.70" y="541.20" width="3.5" height="3.1" fill="#ab47bc"/>
<text x="99.70" y="544.30" font-family='"Liberation Serif", serif' font-size="4.3" font-weight="normal" text-anchor="start" fill="#555" textLength="7.40" lengthAdjust="spacingAndGlyphs"  >(K)</text>
<text x="108.43" y="544.30" font-family='"Liberation Serif", serif' font-size="4.3" font-weight="bold" text-anchor="start" fill="#000" textLength="11.04" lengthAdjust="spacingAndGlyphs" stroke="#000" stroke-width="0.15" >&gt;100</text>
<rect x="145.70" y="541.20" width="3.5" height="3.1" fill="#fb8c00"/>
<text x="154.70" y="544.30" font-family='"Liberation Serif", serif' font-size="4.3" font-weight="normal" text-anchor="start" fill="#555" textLength="7.11" lengthAdjust="spacingAndGlyphs"  >(C)</text>
<text x="163.14" y="544.30" font-family='"Liberation Serif", serif' font-size="4.3" font-weight="bold" text-anchor="start" fill="#000" textLength="13.33" lengthAdjust="spacingAndGlyphs" stroke="#000" stroke-width="0.15" >20–30</text>
<rect x="193.70" y="541.20" width="3.5" height="3.1" fill="#1ea0dc"/>
<text x="202.70" y="544.30" font-family='"Liberation Serif", serif' font-size="4.3" font-weight="normal" text-anchor="start" fill="#555" textLength="6.52" lengthAdjust="spacingAndGlyphs"  >(F)</text>
<text x="210.55" y="544.30" font-family='"Liberation Serif", serif' font-size="4.3" font-weight="bold" text-anchor="start" fill="#000" textLength="13.33" lengthAdjust="spacingAndGlyphs" stroke="#000" stroke-width="0.15" >50–60</text>
<rect x="238.20" y="541.20" width="3.5" height="3.1" fill="#e02424"/>
<text x="247.20" y="544.30" font-family='"Liberation Serif", serif' font-size="4.3" font-weight="normal" text-anchor="start" fill="#555" textLength="5.33" lengthAdjust="spacingAndGlyphs"  >(I)</text>
<text x="253.86" y="544.30" font-family='"Liberation Serif", serif' font-size="4.3" font-weight="bold" text-anchor="start" fill="#000" textLength="13.33" lengthAdjust="spacingAndGlyphs" stroke="#000" stroke-width="0.15" >80–90</text>
</svg>
</body></html>
